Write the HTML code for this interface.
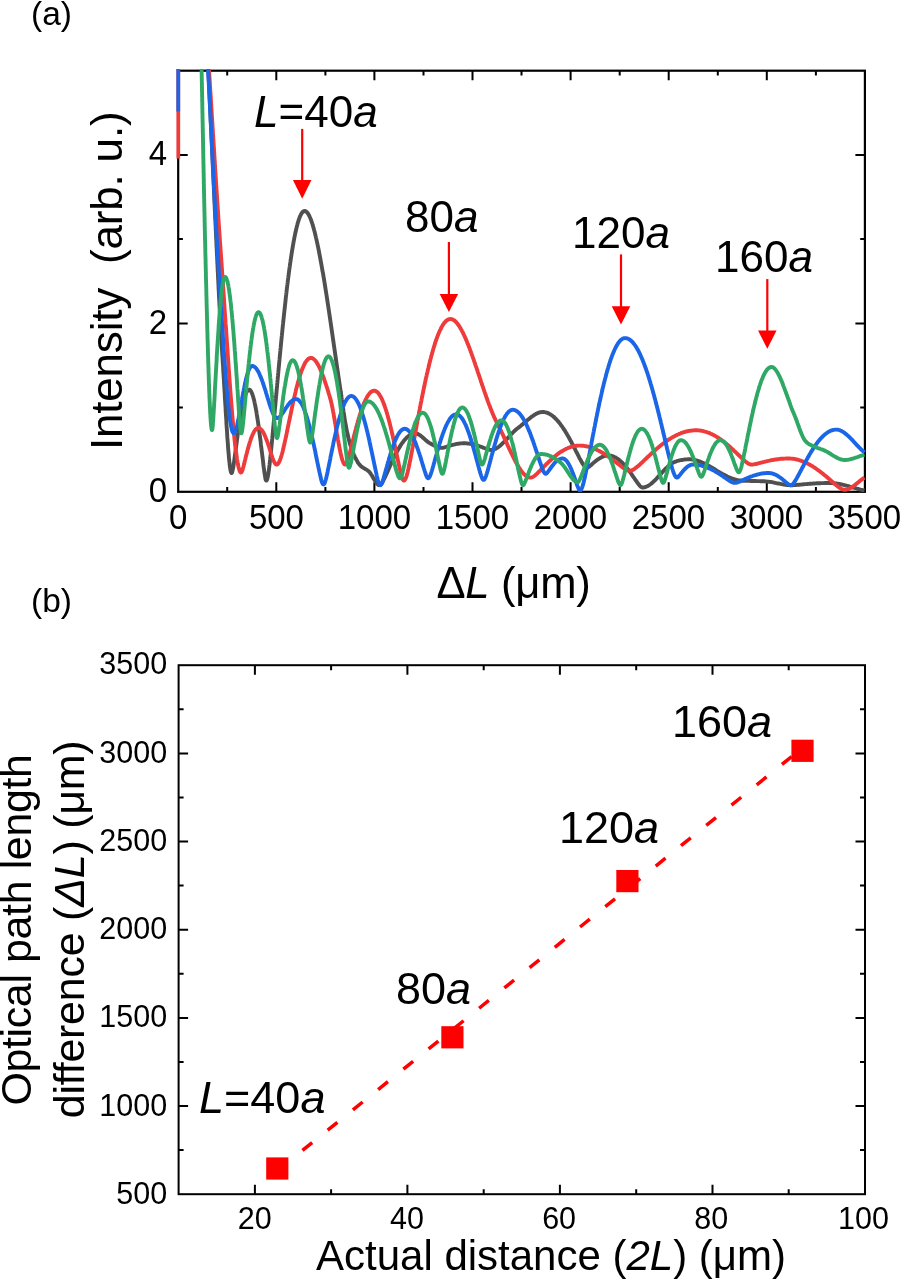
<!DOCTYPE html>
<html><head><meta charset="utf-8">
<style>
html,body{margin:0;padding:0;background:#fff;}
svg{display:block;will-change:transform;}
text{font-family:"Liberation Sans",sans-serif;fill:#000;white-space:pre;}
.i{font-style:italic;}
</style></head><body>
<svg width="900" height="1279" viewBox="0 0 900 1279">
<defs><clipPath id="ca"><rect x="176.2" y="69" width="690.7" height="423"/></clipPath></defs>
<text x="31" y="24.5" font-size="33.5">(a)</text>
<g font-size="33" text-anchor="end">
<text transform="translate(167,501.8) scale(1,1.065)">0</text>
<text transform="translate(167,333.8) scale(1,1.065)">2</text>
<text transform="translate(167,165.3) scale(1,1.065)">4</text>
</g>
<g font-size="33" text-anchor="middle">
<text transform="translate(178.2,528.6) scale(1,1.065)">0</text>
<text transform="translate(276.4,528.6) scale(1,1.065)">500</text>
<text transform="translate(374.4,528.6) scale(1,1.065)">1000</text>
<text transform="translate(472.4,528.6) scale(1,1.065)">1500</text>
<text transform="translate(570.4,528.6) scale(1,1.065)">2000</text>
<text transform="translate(668.4,528.6) scale(1,1.065)">2500</text>
<text transform="translate(766.4,528.6) scale(1,1.065)">3000</text>
<text transform="translate(864.4,528.6) scale(1,1.065)">3500</text>
</g>
<text x="436.5" y="598.2" font-size="43.6" letter-spacing="-0.3">Δ<tspan class="i">L</tspan> (μm)</text>
<text transform="translate(122,450) rotate(-90)" font-size="44" letter-spacing="-0.2">Intensity  (arb. u.)</text>
<rect x="178.2" y="70.7" width="686.7" height="421.1" fill="none" stroke="#000" stroke-width="2.2"/>
<path d="M227.2,491.8 v-4.7 M227.2,70.7 v4.7 M276.3,491.8 v-9.5 M276.3,70.7 v9.5 M325.4,491.8 v-4.7 M325.4,70.7 v4.7 M374.4,491.8 v-9.5 M374.4,70.7 v9.5 M423.5,491.8 v-4.7 M423.5,70.7 v4.7 M472.5,491.8 v-9.5 M472.5,70.7 v9.5 M521.5,491.8 v-4.7 M521.5,70.7 v4.7 M570.6,491.8 v-9.5 M570.6,70.7 v9.5 M619.7,491.8 v-4.7 M619.7,70.7 v4.7 M668.7,491.8 v-9.5 M668.7,70.7 v9.5 M717.8,491.8 v-4.7 M717.8,70.7 v4.7 M766.8,491.8 v-9.5 M766.8,70.7 v9.5 M815.9,491.8 v-4.7 M815.9,70.7 v4.7 M178.2,407.6 h4.7 M864.9,407.6 h-4.7 M178.2,323.4 h9.5 M864.9,323.4 h-9.5 M178.2,239.1 h4.7 M864.9,239.1 h-4.7 M178.2,154.9 h9.5 M864.9,154.9 h-9.5" stroke="#000" stroke-width="2" fill="none"/>
<g clip-path="url(#ca)" fill="none" stroke-width="3.9" stroke-linejoin="round">
<path d="M190.0,-300 L208.3,70L208.4,71.1L208.4,72.3L208.5,73.5L208.5,74.6L208.6,75.8L208.6,76.9L208.7,78.1L208.8,79.2L208.8,80.4L208.9,81.6L208.9,82.7L209.0,83.9L209.0,85.1L209.1,86.3L209.2,87.4L209.2,88.6L209.3,89.8L209.3,91.0L209.4,92.2L209.4,93.3L209.5,94.5L209.6,95.7L209.6,96.9L209.7,98.1L209.7,99.3L209.8,100.5L209.8,101.7L209.9,102.9L209.9,104.1L210.0,105.3L210.1,106.5L210.1,107.7L210.2,108.9L210.2,110.1L210.3,111.3L210.3,112.5L210.4,113.7L210.5,114.9L210.5,116.1L210.6,117.3L210.6,118.5L210.7,119.8L210.7,121.0L210.8,122.2L210.9,123.4L210.9,124.6L211.0,125.8L211.0,127.1L211.1,128.3L211.1,129.5L211.2,130.7L211.3,131.9L211.3,133.2L211.4,134.4L211.4,135.6L211.5,136.8L211.5,138.1L211.6,139.3L211.7,140.5L211.7,141.8L211.8,143.0L211.8,144.2L211.9,145.5L211.9,146.7L212.0,147.9L212.1,149.2L212.1,150.4L212.2,151.6L212.2,152.9L212.3,154.1L212.3,155.3L212.4,156.6L212.5,157.8L212.5,159.0L212.6,160.3L212.6,161.5L212.7,162.7L212.7,164.0L212.8,165.2L212.8,166.4L212.9,167.7L213.0,168.9L213.0,170.2L213.1,171.4L213.1,172.6L213.2,173.9L213.2,175.1L213.3,176.3L213.4,177.6L213.4,178.8L213.5,180.1L213.5,181.3L213.6,182.5L213.6,183.8L213.7,185.0L213.8,186.2L213.8,187.5L213.9,188.7L213.9,189.9L214.0,191.2L214.0,192.4L214.1,193.7L214.2,194.9L214.2,196.1L214.3,197.4L214.3,198.6L214.4,199.8L214.4,201.0L214.5,202.3L214.6,203.5L214.6,204.7L214.7,206.0L214.7,207.2L214.8,208.4L214.8,209.6L214.9,210.9L215.0,212.1L215.0,213.3L215.1,214.5L215.1,215.8L215.2,217.0L215.2,218.2L215.3,219.4L215.4,220.7L215.4,221.9L215.5,223.1L215.5,224.3L215.6,225.5L215.6,226.7L215.7,227.9L215.7,229.2L215.8,230.4L215.9,231.6L215.9,232.8L216.0,234.0L216.0,235.2L216.1,236.4L216.1,237.6L216.2,238.8L216.3,240.0L216.3,241.2L216.4,242.4L216.4,243.6L216.5,244.8L216.5,246.0L216.6,247.2L216.7,248.4L216.7,249.6L216.8,250.7L216.8,251.9L216.9,253.1L216.9,254.3L217.0,255.5L217.1,256.7L217.1,257.8L217.2,259.0L217.2,260.2L217.3,261.4L217.3,262.5L217.4,263.7L217.5,264.9L217.5,266.0L217.6,267.2L217.6,268.3L217.7,269.5L217.7,270.7L217.8,271.8L217.9,273.0L217.9,274.1L218.0,275.3L218.0,276.4L218.1,277.6L218.1,278.7L218.2,279.8L218.3,281.0L218.3,282.1L218.4,283.3L218.4,284.4L218.5,285.5L218.5,286.6L218.6,287.8L218.6,288.9L218.7,290.0L218.8,291.1L218.8,292.2L218.9,293.3L218.9,294.5L219.0,295.6L219.0,296.7L219.1,297.8L219.2,298.9L219.2,300.0L219.3,301.1L219.3,302.1L219.4,303.2L219.4,304.3L219.5,305.4L219.6,306.5L219.6,307.6L219.7,308.6L219.7,309.7L219.8,310.8L219.8,311.8L219.9,312.9L220.0,314.0L220.0,315.0L220.1,316.1L220.1,317.1L220.2,318.2L220.2,319.2L220.3,320.3L220.4,321.3L220.4,322.3L220.5,323.4L220.5,324.4L220.6,325.4L220.6,326.4L220.7,327.4L220.8,328.5L220.8,329.5L220.9,330.5L220.9,331.5L221.0,332.5L221.0,333.5L221.1,334.5L221.2,335.5L221.2,336.5L221.3,337.4L221.3,338.4L221.4,339.4L221.4,340.4L221.5,341.4L221.5,342.3L221.6,343.3L221.7,344.2L221.7,345.2L221.8,346.1L221.8,347.1L221.9,348.0L221.9,349.0L222.0,349.9L222.1,350.8L222.1,351.8L222.2,352.7L222.2,353.6L222.3,354.5L222.3,355.4L222.4,356.4L222.5,357.3L222.5,358.2L222.6,359.1L222.6,359.9L222.7,360.8L222.7,361.7L222.8,362.6L222.9,364.0L223.0,365.4L223.1,366.8L223.2,368.2L223.2,369.6L223.3,371.0L223.4,372.5L223.5,373.9L223.6,375.4L223.7,376.8L223.8,378.3L223.9,379.8L224.0,381.3L224.0,382.8L224.1,384.2L224.2,385.7L224.3,387.2L224.4,388.7L224.5,390.3L224.6,391.8L224.7,393.3L224.8,394.8L224.8,396.3L224.9,397.8L225.0,399.3L225.1,400.8L225.2,402.3L225.3,403.8L225.4,405.4L225.5,406.9L225.6,408.4L225.6,409.8L225.7,411.3L225.8,412.8L225.9,414.3L226.0,415.8L226.1,417.2L226.2,418.7L226.3,420.1L226.4,421.6L226.4,423.0L226.5,424.4L226.6,425.9L226.7,427.3L226.8,428.7L226.9,430.0L227.0,431.4L227.1,432.8L227.2,434.1L227.2,435.4L227.3,436.8L227.4,438.1L227.5,439.3L227.6,440.6L227.7,441.9L227.8,443.1L227.9,444.3L228.0,445.5L228.0,446.7L228.1,447.9L228.2,449.0L228.3,450.1L228.4,451.2L228.5,452.3L228.6,453.4L228.7,454.4L228.8,455.5L228.8,456.4L228.9,457.4L229.0,458.4L229.1,459.3L229.2,460.2L229.3,461.1L229.4,461.9L229.5,462.7L229.6,463.5L229.6,464.3L229.7,465.0L229.8,465.7L229.9,466.4L230.0,467.1L230.1,467.7L230.2,468.3L230.3,468.8L230.4,469.3L230.4,469.8L230.5,470.3L230.6,470.7L230.7,471.1L230.8,471.4L230.9,471.8L231.0,472.1L231.1,472.3L231.2,472.5L231.2,472.7L231.3,472.8L231.4,472.9L231.5,473.0L231.6,473.0L231.8,472.9L232.0,472.6L232.2,472.0L232.4,471.3L232.6,470.4L232.8,469.4L233.1,468.3L233.3,467.1L233.5,465.8L233.7,464.4L233.9,463.0L234.1,461.6L234.3,460.1L234.5,458.6L234.7,457.1L234.9,455.5L235.1,454.0L235.3,452.4L235.6,450.9L235.8,449.3L236.0,447.8L236.2,446.2L236.4,444.6L236.6,443.1L236.8,441.6L237.0,440.0L237.2,438.5L237.4,437.0L237.6,435.5L237.8,434.0L238.1,432.6L238.3,431.1L238.5,429.7L238.7,428.3L238.9,426.9L239.1,425.5L239.3,424.1L239.5,422.8L239.7,421.4L239.9,420.1L240.1,418.9L240.3,417.6L240.6,416.4L240.8,415.1L241.0,413.9L241.2,412.8L241.4,411.6L241.6,410.5L241.8,409.4L242.0,408.3L242.2,407.3L242.4,406.3L242.6,405.3L242.8,404.3L243.1,403.4L243.3,402.5L243.5,401.6L243.7,400.8L243.9,400.0L244.1,399.2L244.3,398.4L244.5,397.7L244.7,397.0L244.9,396.3L245.1,395.7L245.3,395.1L245.6,394.5L245.8,393.9L246.0,393.4L246.2,393.0L246.4,392.5L246.6,392.1L246.8,391.7L247.0,391.4L247.2,391.1L247.4,390.8L247.6,390.5L247.8,390.3L248.1,390.1L248.3,390.0L248.5,389.9L248.7,389.8L248.9,389.7L249.1,389.7L249.3,389.7L249.5,389.8L249.7,389.8L249.9,390.0L250.1,390.1L250.2,390.3L250.4,390.5L250.6,390.7L250.8,391.0L251.0,391.3L251.2,391.6L251.4,392.0L251.6,392.4L251.8,392.8L252.0,393.3L252.2,393.7L252.3,394.3L252.5,394.8L252.7,395.4L252.9,396.0L253.1,396.6L253.3,397.3L253.5,398.0L253.7,398.7L253.9,399.5L254.1,400.3L254.3,401.1L254.5,401.9L254.6,402.8L254.8,403.7L255.0,404.6L255.2,405.5L255.4,406.5L255.6,407.5L255.8,408.5L256.0,409.6L256.2,410.7L256.4,411.8L256.6,412.9L256.7,414.0L256.9,415.2L257.1,416.4L257.3,417.6L257.5,418.9L257.7,420.1L257.9,421.4L258.1,422.7L258.3,424.1L258.5,425.4L258.7,426.8L258.8,428.1L259.0,429.5L259.2,431.0L259.4,432.4L259.6,433.9L259.8,435.3L260.0,436.8L260.2,438.3L260.4,439.8L260.6,441.3L260.8,442.9L260.9,444.4L261.1,446.0L261.3,447.5L261.5,449.1L261.7,450.7L261.9,452.3L262.1,453.8L262.3,455.4L262.5,457.0L262.7,458.6L262.9,460.2L263.1,461.7L263.2,463.3L263.4,464.9L263.6,466.4L263.8,467.9L264.0,469.4L264.2,470.8L264.4,472.2L264.6,473.6L264.8,474.8L265.0,476.0L265.2,477.1L265.3,478.1L265.5,479.0L265.7,479.7L265.9,480.2L266.1,480.5L266.3,480.6L266.4,480.6L266.6,480.4L266.7,480.2L266.9,480.0L267.0,479.6L267.2,479.2L267.3,478.7L267.5,478.2L267.6,477.5L267.8,476.8L267.9,476.1L268.1,475.3L268.2,474.4L268.4,473.5L268.5,472.5L268.7,471.5L268.8,470.4L269.0,469.3L269.1,468.1L269.3,466.9L269.4,465.7L269.6,464.5L269.7,463.2L269.9,461.9L270.0,460.5L270.2,459.2L270.3,457.8L270.5,456.4L270.6,454.9L270.8,453.5L270.9,452.0L271.1,450.5L271.2,449.0L271.4,447.5L271.5,446.0L271.7,444.4L271.8,442.9L272.0,441.3L272.1,439.7L272.3,438.2L272.4,436.6L272.6,435.0L272.7,433.4L272.9,431.8L273.0,430.1L273.2,428.5L273.3,426.9L273.5,425.3L273.6,423.6L273.8,422.0L273.9,420.4L274.1,418.7L274.2,417.1L274.4,415.4L274.5,413.8L274.7,412.1L274.8,410.5L275.0,408.8L275.1,407.2L275.3,405.5L275.4,403.8L275.6,402.2L275.7,400.5L275.9,398.9L276.0,397.2L276.2,395.6L276.3,393.9L276.5,392.3L276.6,390.6L276.8,389.0L276.9,387.4L277.1,385.7L277.2,384.1L277.4,382.4L277.5,380.8L277.7,379.2L277.8,377.6L278.0,375.9L278.1,374.3L278.3,372.7L278.4,371.1L278.6,369.5L278.7,367.9L278.9,366.3L279.0,364.7L279.2,363.1L279.3,361.5L279.5,359.9L279.6,358.3L279.8,356.8L279.9,355.2L280.1,353.6L280.2,352.1L280.4,350.5L280.5,349.0L280.7,347.4L280.8,345.9L281.0,344.3L281.1,342.8L281.3,341.3L281.4,339.8L281.6,338.3L281.7,336.7L281.9,335.2L282.0,333.8L282.2,332.3L282.3,330.8L282.5,329.3L282.6,327.8L282.8,326.4L282.9,324.9L283.1,323.5L283.2,322.0L283.4,320.6L283.5,319.2L283.7,317.8L283.8,316.3L284.0,314.9L284.1,313.5L284.3,312.1L284.4,310.8L284.6,309.4L284.7,308.0L284.9,306.6L285.0,305.3L285.2,303.9L285.3,302.6L285.5,301.3L285.6,299.9L285.7,298.6L285.9,297.3L286.0,296.0L286.2,294.7L286.3,293.4L286.5,292.2L286.6,290.9L286.8,289.6L286.9,288.4L287.1,287.1L287.2,285.9L287.4,284.7L287.5,283.5L287.7,282.2L287.8,281.0L288.0,279.9L288.1,278.7L288.3,277.5L288.4,276.3L288.6,275.2L288.7,274.0L288.9,272.9L289.0,271.8L289.2,270.6L289.3,269.5L289.5,268.4L289.6,267.3L289.8,266.3L289.9,265.2L290.1,264.1L290.2,263.1L290.4,262.0L290.5,261.0L290.7,260.0L290.8,258.9L291.0,257.9L291.1,256.9L291.3,255.9L291.4,255.0L291.6,254.0L291.7,253.0L291.9,252.1L292.0,251.2L292.2,250.2L292.3,249.3L292.5,248.4L292.6,247.5L292.8,246.6L292.9,245.7L293.1,244.9L293.2,244.0L293.4,243.2L293.5,242.3L293.7,241.5L293.8,240.7L294.0,239.9L294.1,239.1L294.3,238.3L294.4,237.5L294.6,236.8L294.7,236.0L294.9,235.3L295.0,234.5L295.2,233.8L295.3,233.1L295.5,232.4L295.6,231.7L295.8,231.1L295.9,230.4L296.1,229.7L296.2,229.1L296.4,228.5L296.5,227.8L296.7,227.2L296.8,226.6L297.0,226.0L297.1,225.4L297.3,224.9L297.4,224.3L297.6,223.8L297.7,223.2L297.9,222.7L298.0,222.2L298.2,221.7L298.3,221.2L298.5,220.7L298.6,220.3L298.8,219.8L298.9,219.4L299.1,218.9L299.2,218.5L299.4,218.1L299.5,217.7L299.7,217.3L299.8,216.9L300.0,216.6L300.1,216.2L300.3,215.9L300.4,215.6L300.6,215.2L300.7,214.9L300.9,214.6L301.0,214.4L301.2,214.1L301.3,213.8L301.5,213.6L301.6,213.3L301.8,213.1L301.9,212.9L302.1,212.7L302.2,212.5L302.4,212.3L302.5,212.1L302.7,212.0L302.8,211.8L303.0,211.7L303.1,211.6L303.3,211.5L303.4,211.4L303.6,211.3L303.7,211.2L303.9,211.1L304.0,211.1L304.2,211.1L304.3,211.0L304.5,211.0L304.6,211.0L304.8,211.0L305.0,211.0L305.2,211.1L305.4,211.1L305.6,211.2L305.8,211.3L306.0,211.5L306.2,211.6L306.4,211.7L306.6,211.9L306.8,212.1L307.0,212.3L307.2,212.5L307.4,212.8L307.6,213.0L307.8,213.3L308.0,213.6L308.2,213.9L308.4,214.2L308.6,214.6L308.8,214.9L309.0,215.3L309.2,215.7L309.4,216.1L309.6,216.5L309.8,217.0L310.0,217.4L310.2,217.9L310.4,218.4L310.6,218.9L310.8,219.4L311.0,219.9L311.2,220.5L311.4,221.0L311.6,221.6L311.8,222.2L312.0,222.8L312.2,223.4L312.4,224.0L312.6,224.7L312.8,225.3L313.0,226.0L313.2,226.7L313.4,227.4L313.6,228.1L313.8,228.8L314.0,229.5L314.2,230.3L314.4,231.0L314.6,231.8L314.8,232.6L315.0,233.4L315.2,234.2L315.4,235.0L315.6,235.9L315.8,236.7L316.0,237.6L316.2,238.4L316.4,239.3L316.6,240.2L316.8,241.1L317.0,242.0L317.2,242.9L317.4,243.9L317.6,244.8L317.8,245.8L318.0,246.7L318.2,247.7L318.4,248.7L318.6,249.7L318.8,250.7L319.0,251.7L319.2,252.8L319.4,253.8L319.6,254.8L319.8,255.9L320.0,257.0L320.2,258.0L320.4,259.1L320.6,260.2L320.8,261.3L321.0,262.4L321.2,263.5L321.4,264.6L321.6,265.8L321.8,266.9L322.0,268.1L322.2,269.2L322.4,270.4L322.6,271.6L322.9,272.7L323.1,273.9L323.3,275.1L323.5,276.3L323.7,277.5L323.9,278.7L324.1,279.9L324.3,281.2L324.5,282.4L324.7,283.6L324.9,284.9L325.1,286.1L325.3,287.4L325.5,288.7L325.7,289.9L325.9,291.2L326.1,292.5L326.3,293.8L326.5,295.0L326.7,296.3L326.9,297.6L327.1,298.9L327.3,300.2L327.5,301.6L327.7,302.9L327.9,304.2L328.1,305.5L328.3,306.8L328.5,308.2L328.7,309.5L328.9,310.8L329.1,312.2L329.3,313.5L329.5,314.9L329.7,316.2L329.9,317.6L330.1,318.9L330.3,320.3L330.5,321.7L330.7,323.0L330.9,324.4L331.1,325.8L331.3,327.1L331.5,328.5L331.7,329.9L331.9,331.3L332.1,332.6L332.3,334.0L332.5,335.4L332.7,336.8L332.9,338.2L333.1,339.6L333.3,340.9L333.5,342.3L333.7,343.7L333.9,345.1L334.1,346.5L334.3,347.9L334.5,349.2L334.7,350.6L334.9,352.0L335.1,353.4L335.3,354.8L335.5,356.2L335.7,357.6L335.9,358.9L336.1,360.3L336.3,361.7L336.5,363.1L336.7,364.5L336.9,365.8L337.1,367.2L337.3,368.6L337.5,369.9L337.7,371.3L337.9,372.7L338.1,374.0L338.3,375.4L338.5,376.8L338.7,378.1L338.9,379.5L339.1,380.8L339.3,382.2L339.5,383.5L339.7,384.9L339.9,386.2L340.1,387.5L340.3,388.9L340.5,390.2L340.7,391.5L340.9,392.5L341.0,393.6L341.2,394.6L341.3,395.7L341.5,396.8L341.6,397.8L341.8,398.9L341.9,400.0L342.1,401.1L342.3,402.2L342.4,403.3L342.6,404.4L342.7,405.5L342.9,406.6L343.0,407.7L343.2,408.8L343.3,409.9L343.5,411.0L343.6,412.0L343.8,413.1L344.0,414.2L344.1,415.2L344.3,416.2L344.4,417.2L344.6,418.2L344.7,419.2L344.9,420.1L345.0,421.1L345.2,422.0L345.5,423.6L345.8,425.2L346.1,426.7L346.3,428.2L346.6,429.7L346.9,431.1L347.2,432.4L347.5,433.8L347.8,435.0L348.0,436.3L348.3,437.5L348.6,438.6L348.9,439.8L349.2,440.9L349.5,441.9L349.7,442.9L350.0,443.9L350.3,444.9L350.6,445.8L350.9,446.7L351.2,447.6L351.4,448.4L351.7,449.2L352.0,450.0L352.3,450.8L352.6,451.5L352.9,452.3L353.1,453.0L353.4,453.7L353.7,454.3L354.0,455.0L354.3,455.6L354.6,456.2L354.8,456.8L355.1,457.4L355.4,457.9L355.7,458.5L356.0,459.0L356.3,459.6L356.5,460.1L356.8,460.6L357.1,461.1L357.4,461.6L358.0,462.7L358.7,463.6L359.3,464.4L360.0,465.2L360.6,465.8L361.3,466.4L361.9,466.9L362.5,467.3L363.2,467.7L363.8,468.1L364.5,468.5L365.1,468.9L365.7,469.2L366.4,469.6L367.0,470.0L367.7,470.5L368.3,471.0L369.0,471.6L369.6,472.3L370.2,473.0L370.7,473.7L371.2,474.5L371.8,475.4L372.4,476.3L372.9,477.3L373.4,478.2L374.0,479.2L374.6,480.1L375.1,481.0L375.7,481.9L376.2,482.7L376.8,483.4L377.3,484.0L377.9,484.5L378.4,484.9L378.9,485.1L379.5,485.2L380.0,485.1L380.5,484.8L381.0,484.4L381.5,483.8L382.0,483.1L382.5,482.3L382.9,481.5L383.4,480.5L383.9,479.5L384.4,478.5L384.9,477.5L385.4,476.4L385.9,475.3L386.4,474.2L386.9,473.1L387.4,472.0L387.9,470.9L388.4,469.8L388.8,468.7L389.3,467.6L389.8,466.5L390.3,465.4L390.8,464.3L391.3,463.2L391.8,462.1L392.3,461.0L392.8,460.0L393.3,459.0L393.8,457.9L394.3,456.9L394.7,455.9L395.2,455.0L395.7,454.0L396.2,453.0L396.7,452.1L397.2,451.2L397.7,450.3L398.2,449.4L398.7,448.6L399.2,447.7L399.7,446.9L400.2,446.1L400.6,445.3L401.1,444.6L401.6,443.8L402.1,443.1L402.6,442.5L403.1,441.8L403.6,441.1L404.1,440.5L404.6,439.9L405.1,439.4L405.6,438.8L406.1,438.3L406.5,437.8L407.0,437.3L407.5,436.9L408.0,436.5L408.5,436.1L409.0,435.7L409.5,435.4L410.0,435.1L410.5,434.8L411.0,434.5L411.5,434.3L412.0,434.1L412.4,433.9L412.9,433.7L413.4,433.6L413.9,433.5L414.4,433.5L414.9,433.4L415.4,433.4L416.1,433.5L416.9,433.6L417.6,433.9L418.3,434.2L419.0,434.6L419.8,435.1L420.5,435.6L421.2,436.2L422.0,436.8L422.7,437.4L423.4,438.1L424.2,438.7L424.9,439.4L425.6,440.0L426.4,440.7L427.1,441.3L427.8,441.9L428.5,442.4L429.3,442.9L430.0,443.3L430.9,443.8L431.8,444.3L432.7,444.8L433.6,445.2L434.5,445.7L435.4,446.1L436.3,446.6L437.2,446.9L438.1,447.3L439.0,447.5L439.9,447.7L440.8,447.9L441.7,447.9L442.7,447.8L443.7,447.6L444.7,447.3L445.7,447.0L446.7,446.7L447.7,446.3L448.7,446.0L449.7,445.7L450.7,445.4L451.7,445.1L452.8,444.8L453.8,444.6L454.8,444.4L455.8,444.1L456.8,443.9L457.8,443.8L458.8,443.6L459.8,443.5L460.8,443.4L461.8,443.4L462.8,443.3L463.8,443.3L464.8,443.3L465.7,443.3L466.7,443.4L467.7,443.5L468.7,443.6L469.6,443.7L470.6,443.9L471.6,444.1L472.5,444.3L473.5,444.5L474.5,444.7L475.5,445.0L476.4,445.2L477.4,445.5L478.4,445.9L479.3,446.2L480.3,446.5L481.3,446.9L482.3,447.2L483.2,447.6L484.2,448.0L485.2,448.3L486.1,448.7L487.1,449.1L488.1,449.4L489.1,449.7L490.0,449.9L491.0,450.0L491.7,450.0L492.4,449.9L493.0,449.7L493.7,449.6L494.4,449.3L495.1,449.0L495.7,448.7L496.4,448.3L497.1,447.9L497.8,447.5L498.4,447.0L499.1,446.5L499.8,445.9L500.4,445.4L501.1,444.8L501.8,444.1L502.5,443.5L503.1,442.8L503.8,442.2L504.5,441.5L505.2,440.7L505.9,440.0L506.5,439.3L507.2,438.6L507.9,437.8L508.6,437.1L509.2,436.4L509.9,435.6L510.6,434.9L511.2,434.2L511.9,433.5L512.6,432.8L513.3,432.1L514.0,431.5L514.6,430.8L515.3,430.2L516.0,429.6L516.6,429.0L517.3,428.5L518.0,428.0L518.7,427.4L519.5,426.9L520.2,426.3L521.0,425.7L521.7,425.0L522.5,424.4L523.2,423.8L524.0,423.1L524.7,422.5L525.5,421.8L526.2,421.2L527.0,420.5L527.7,419.9L528.5,419.3L529.2,418.7L530.0,418.1L530.7,417.5L531.5,416.9L532.2,416.3L533.0,415.8L533.7,415.3L534.5,414.8L535.2,414.4L536.0,413.9L536.7,413.6L537.5,413.2L538.2,412.9L539.0,412.6L539.7,412.4L540.5,412.2L541.2,412.1L542.0,412.0L542.7,412.0L543.2,412.0L543.8,412.0L544.3,412.1L544.8,412.2L545.4,412.3L545.9,412.4L546.4,412.6L547.0,412.7L547.5,412.9L548.0,413.1L548.6,413.4L549.1,413.6L549.6,413.9L550.2,414.2L550.7,414.6L551.2,414.9L551.8,415.3L552.3,415.7L552.8,416.1L553.4,416.5L553.9,417.0L554.4,417.5L554.9,418.0L555.5,418.5L556.0,419.0L556.5,419.6L557.1,420.2L557.6,420.8L558.1,421.4L558.7,422.0L559.2,422.7L559.7,423.3L560.3,424.0L560.8,424.8L561.3,425.5L561.9,426.2L562.4,427.0L562.9,427.8L563.5,428.6L564.0,429.4L564.5,430.2L565.1,431.1L565.6,431.9L566.1,432.8L566.7,433.7L567.2,434.6L567.7,435.5L568.3,436.5L568.8,437.4L569.3,438.4L569.9,439.3L570.4,440.3L570.9,441.3L571.5,442.3L572.0,443.3L572.5,444.3L573.1,445.3L573.6,446.4L574.1,447.4L574.7,448.5L575.2,449.5L575.7,450.6L576.2,451.6L576.8,452.7L577.3,453.7L577.8,454.8L578.4,455.8L578.9,456.9L579.4,457.9L580.0,458.9L580.5,459.9L581.0,460.9L581.6,461.8L582.1,462.8L582.6,463.6L583.2,464.5L583.7,465.2L584.2,465.9L584.8,466.5L585.3,467.0L585.8,467.4L586.4,467.6L586.9,467.7L587.7,467.5L588.5,467.1L589.3,466.6L590.1,465.9L590.9,465.2L591.7,464.5L592.4,463.8L593.2,463.1L594.0,462.4L594.8,461.8L595.6,461.1L596.4,460.5L597.2,459.9L598.0,459.3L598.8,458.8L599.6,458.3L600.4,457.8L601.2,457.4L602.0,457.0L602.8,456.6L603.5,456.3L604.3,456.1L605.1,455.9L605.9,455.7L606.7,455.6L607.5,455.5L608.3,455.5L608.9,455.5L609.5,455.6L610.2,455.6L610.8,455.7L611.4,455.9L612.0,456.0L612.7,456.2L613.3,456.5L613.9,456.7L614.5,457.0L615.2,457.3L615.8,457.6L616.4,458.0L617.0,458.4L617.7,458.8L618.3,459.3L618.9,459.7L619.5,460.2L620.1,460.8L620.8,461.3L621.4,461.9L622.0,462.5L622.6,463.1L623.3,463.8L623.9,464.4L624.5,465.1L625.1,465.8L625.8,466.6L626.4,467.3L627.0,468.1L627.6,468.9L628.3,469.7L628.9,470.5L629.5,471.4L630.1,472.2L630.8,473.1L631.4,474.0L632.0,474.9L632.6,475.8L633.2,476.7L633.9,477.6L634.5,478.5L635.1,479.4L635.7,480.3L636.4,481.2L637.0,482.1L637.6,483.0L638.2,483.8L638.9,484.6L639.5,485.4L640.1,486.1L640.7,486.7L641.4,487.1L642.0,487.4L642.6,487.5L643.3,487.5L644.0,487.4L644.6,487.2L645.3,487.1L646.0,486.8L646.7,486.5L647.4,486.2L648.1,485.8L648.8,485.4L649.4,485.0L650.1,484.5L650.8,484.0L651.5,483.4L652.2,482.8L652.9,482.2L653.5,481.6L654.2,480.9L654.9,480.3L655.6,479.6L656.3,478.9L657.0,478.2L657.6,477.4L658.3,476.7L659.0,475.9L659.7,475.2L660.4,474.4L661.0,473.7L661.7,472.9L662.4,472.2L663.1,471.4L663.8,470.7L664.5,469.9L665.1,469.2L665.8,468.5L666.5,467.9L667.2,467.2L667.9,466.6L668.6,465.9L669.2,465.4L669.9,464.8L670.6,464.3L671.3,463.8L672.0,463.3L672.7,462.9L673.4,462.5L674.0,462.2L674.7,461.9L675.4,461.6L676.5,461.3L677.5,460.9L678.6,460.7L679.6,460.4L680.7,460.2L681.7,460.0L682.8,459.8L683.8,459.6L684.9,459.5L685.9,459.4L687.0,459.4L688.0,459.3L689.1,459.3L690.0,459.3L690.8,459.4L691.7,459.4L692.6,459.6L693.4,459.7L694.3,459.9L695.2,460.1L696.0,460.3L696.9,460.5L697.8,460.8L698.6,461.1L699.5,461.4L700.3,461.7L701.2,462.1L702.1,462.5L702.9,462.9L703.8,463.3L704.7,463.7L705.5,464.1L706.4,464.6L707.3,465.0L708.1,465.5L709.0,466.0L709.9,466.5L710.7,467.0L711.6,467.5L712.5,468.0L713.3,468.5L714.2,469.0L715.0,469.5L715.9,470.0L716.8,470.6L717.6,471.1L718.5,471.6L719.4,472.1L720.2,472.6L721.1,473.1L722.0,473.6L722.8,474.1L723.7,474.6L724.6,475.0L725.4,475.5L726.3,475.9L727.2,476.4L728.0,476.8L728.9,477.2L729.8,477.6L730.6,477.9L731.5,478.3L732.4,478.6L733.2,478.9L734.1,479.2L734.9,479.5L735.8,479.7L736.7,479.9L737.5,480.1L738.4,480.3L739.3,480.4L740.1,480.5L741.0,480.6L742.2,480.7L743.4,480.7L744.7,480.8L745.9,480.8L747.1,480.9L748.3,480.9L749.5,480.9L750.8,481.0L752.0,481.0L753.2,481.0L754.4,481.0L755.6,481.0L756.9,481.1L758.1,481.1L759.3,481.1L760.5,481.2L761.7,481.2L763.0,481.3L764.2,481.3L765.4,481.4L766.5,481.5L767.6,481.6L768.6,481.7L769.7,481.9L770.8,482.0L771.9,482.2L773.0,482.4L774.0,482.6L775.1,482.9L776.2,483.1L777.3,483.3L778.3,483.5L779.4,483.7L780.5,483.9L781.6,484.1L782.7,484.3L783.7,484.5L784.8,484.7L785.9,484.8L787.0,485.0L788.1,485.1L789.1,485.1L790.2,485.2L791.3,485.2L792.5,485.2L793.6,485.1L794.8,485.1L795.9,485.0L797.1,484.9L798.2,484.8L799.4,484.7L800.6,484.6L801.7,484.5L802.9,484.4L804.0,484.2L805.2,484.1L806.3,484.1L807.5,484.0L808.7,483.9L809.8,483.8L811.0,483.7L812.1,483.6L813.3,483.5L814.5,483.5L815.6,483.4L816.8,483.3L817.9,483.3L819.1,483.2L820.2,483.2L821.4,483.1L822.6,483.1L823.7,483.1L824.9,483.0L826.0,483.0L827.2,483.0L828.3,483.0L829.5,483.0L830.5,483.0L831.5,483.0L832.5,483.1L833.5,483.2L834.5,483.3L835.5,483.4L836.5,483.5L837.5,483.7L838.5,483.9L839.5,484.0L840.5,484.2L841.5,484.5L842.5,484.7L843.5,484.9L844.5,485.2L845.5,485.4L846.5,485.7L847.5,485.9L848.5,486.2L849.5,486.5L850.5,486.8L851.5,487.1L852.5,487.3L853.5,487.6L854.5,487.9L855.5,488.2L856.5,488.5L857.5,488.8L858.5,489.0L859.5,489.3L860.5,489.6L861.5,489.8L862.5,490.0L863.5,490.3L864.5,490.5" stroke="#505050" />
<path d="M178.2,158.4 L178.2,-300 L185.2,-300 L209.0,70L209.1,71.1L209.1,72.3L209.2,73.4L209.3,74.5L209.4,75.7L209.4,76.8L209.5,78.0L209.6,79.1L209.7,80.2L209.7,81.4L209.8,82.5L209.9,83.7L209.9,84.8L210.0,86.0L210.1,87.1L210.2,88.3L210.2,89.4L210.3,90.6L210.4,91.8L210.5,92.9L210.5,94.1L210.6,95.2L210.7,96.4L210.8,97.5L210.8,98.7L210.9,99.9L211.0,101.0L211.0,102.2L211.1,103.4L211.2,104.5L211.3,105.7L211.3,106.9L211.4,108.0L211.5,109.2L211.6,110.4L211.6,111.5L211.7,112.7L211.8,113.9L211.8,115.0L211.9,116.2L212.0,117.4L212.1,118.5L212.1,119.7L212.2,120.9L212.3,122.1L212.4,123.2L212.4,124.4L212.5,125.6L212.6,126.7L212.6,127.9L212.7,129.1L212.8,130.3L212.9,131.4L212.9,132.6L213.0,133.8L213.1,135.0L213.2,136.1L213.2,137.3L213.3,138.5L213.4,139.6L213.5,140.8L213.5,142.0L213.6,143.2L213.7,144.3L213.7,145.5L213.8,146.7L213.9,147.8L214.0,149.0L214.0,150.2L214.1,151.3L214.2,152.5L214.3,153.7L214.3,154.9L214.4,156.0L214.5,157.2L214.5,158.3L214.6,159.5L214.7,160.7L214.8,161.8L214.8,163.0L214.9,164.2L215.0,165.3L215.1,166.5L215.1,167.6L215.2,168.8L215.3,170.0L215.3,171.1L215.4,172.3L215.5,173.4L215.6,174.6L215.6,175.7L215.7,176.9L215.8,178.0L215.9,179.2L215.9,180.3L216.0,181.5L216.1,182.6L216.1,183.8L216.2,184.9L216.3,186.1L216.4,187.2L216.4,188.3L216.5,189.5L216.6,190.6L216.7,191.7L216.7,192.9L216.8,194.0L216.9,195.1L217.0,196.3L217.0,197.4L217.1,198.5L217.2,199.6L217.2,200.8L217.3,201.9L217.4,203.0L217.5,204.1L217.5,205.2L217.6,206.3L217.7,207.4L217.8,208.6L217.8,209.7L217.9,210.8L218.0,211.9L218.0,213.0L218.1,214.1L218.2,215.2L218.3,216.3L218.3,217.4L218.4,218.4L218.5,219.5L218.6,220.6L218.6,221.7L218.7,222.8L218.8,223.9L218.8,224.9L218.9,226.0L219.0,227.1L219.1,228.2L219.1,229.2L219.2,230.3L219.3,231.3L219.4,232.4L219.4,233.5L219.5,234.5L219.6,235.6L219.7,236.6L219.7,237.7L219.8,238.7L219.9,239.7L219.9,240.8L220.0,241.8L220.1,242.9L220.2,243.9L220.2,244.9L220.3,245.9L220.4,247.0L220.5,248.0L220.5,249.0L220.6,250.0L220.7,251.4L220.8,252.8L220.9,254.2L221.0,255.6L221.1,257.1L221.2,258.5L221.3,259.9L221.4,261.3L221.5,262.8L221.6,264.2L221.7,265.7L221.8,267.1L221.9,268.6L222.0,270.0L222.1,271.5L222.2,272.9L222.3,274.4L222.4,275.9L222.5,277.3L222.6,278.8L222.7,280.3L222.8,281.8L222.9,283.3L223.0,284.7L223.1,286.2L223.2,287.7L223.3,289.2L223.4,290.7L223.5,292.2L223.6,293.7L223.7,295.2L223.8,296.7L223.9,298.2L224.0,299.7L224.1,301.2L224.2,302.7L224.3,304.2L224.4,305.7L224.5,307.2L224.6,308.7L224.7,310.2L224.8,311.7L224.9,313.2L225.0,314.7L225.1,316.2L225.2,317.7L225.3,319.2L225.4,320.7L225.5,322.2L225.6,323.7L225.8,325.2L225.9,326.7L226.0,328.2L226.1,329.7L226.2,331.2L226.3,332.7L226.4,334.2L226.5,335.7L226.6,337.2L226.7,338.7L226.8,340.2L226.9,341.7L227.0,343.1L227.1,344.6L227.2,346.1L227.3,347.6L227.4,349.0L227.5,350.5L227.6,352.0L227.7,353.4L227.8,354.9L227.9,356.4L228.0,357.8L228.1,359.3L228.2,360.7L228.3,362.1L228.4,363.6L228.5,365.0L228.6,366.4L228.7,367.9L228.8,369.3L228.9,370.7L229.0,372.1L229.1,373.5L229.2,374.9L229.3,376.3L229.4,377.7L229.5,379.1L229.6,380.5L229.7,381.8L229.8,383.2L229.9,384.6L230.0,385.9L230.1,387.3L230.2,388.6L230.3,390.0L230.4,391.3L230.5,392.6L230.6,393.9L230.7,395.3L230.8,396.6L230.9,397.9L231.0,399.1L231.1,400.4L231.2,401.7L231.3,403.0L231.4,404.2L231.5,405.5L231.6,406.7L231.7,408.0L231.8,409.2L231.9,410.4L232.0,411.7L232.1,412.9L232.2,414.1L232.3,415.3L232.4,416.4L232.5,417.6L232.6,418.8L232.7,419.9L232.8,421.1L232.9,422.2L233.0,423.3L233.1,424.4L233.2,425.6L233.3,426.7L233.4,427.7L233.5,428.8L233.6,429.9L233.7,430.9L233.8,432.0L233.9,433.0L234.0,434.1L234.1,435.1L234.2,436.1L234.3,437.1L234.4,438.0L234.5,439.0L234.6,440.0L234.7,440.9L234.8,441.9L234.9,442.8L235.0,443.7L235.1,444.6L235.2,445.5L235.3,446.4L235.4,447.2L235.5,448.1L235.6,448.9L235.7,449.8L235.8,450.6L236.0,451.4L236.1,452.2L236.2,452.9L236.3,453.7L236.4,454.5L236.5,455.2L236.6,455.9L236.7,456.6L236.8,457.3L236.9,458.0L237.0,458.7L237.1,459.3L237.2,460.0L237.3,460.6L237.4,461.2L237.5,461.8L237.6,462.4L237.7,462.9L237.8,463.5L237.9,464.0L238.0,464.5L238.1,465.0L238.2,465.5L238.3,466.0L238.4,466.5L238.5,466.9L238.6,467.3L238.7,467.7L238.8,468.1L238.9,468.5L239.0,468.9L239.1,469.2L239.2,469.6L239.3,469.9L239.4,470.2L239.5,470.4L239.6,470.7L239.7,470.9L239.8,471.2L239.9,471.4L240.0,471.6L240.1,471.8L240.2,471.9L240.3,472.0L240.4,472.2L240.5,472.3L240.6,472.4L240.7,472.4L240.8,472.5L240.9,472.5L241.0,472.5L241.3,472.3L241.7,471.9L242.0,471.2L242.4,470.2L242.7,469.2L243.0,468.0L243.4,466.7L243.7,465.5L244.1,464.1L244.4,462.8L244.7,461.4L245.1,460.0L245.4,458.7L245.7,457.3L246.1,455.9L246.4,454.6L246.8,453.3L247.1,452.0L247.4,450.7L247.8,449.4L248.1,448.2L248.5,446.9L248.8,445.7L249.1,444.6L249.5,443.5L249.8,442.4L250.2,441.3L250.5,440.3L250.8,439.3L251.2,438.3L251.5,437.4L251.9,436.5L252.2,435.6L252.5,434.8L252.9,434.1L253.2,433.4L253.6,432.7L253.9,432.0L254.2,431.4L254.6,430.9L254.9,430.4L255.2,429.9L255.6,429.5L255.9,429.2L256.3,428.9L256.6,428.6L256.9,428.4L257.3,428.2L257.6,428.1L258.0,428.0L258.3,428.0L258.7,428.0L259.1,428.1L259.5,428.3L259.9,428.5L260.3,428.8L260.7,429.1L261.1,429.5L261.6,429.9L262.0,430.4L262.4,431.0L262.8,431.6L263.2,432.3L263.6,433.0L264.0,433.8L264.4,434.7L264.8,435.5L265.2,436.5L265.6,437.4L266.0,438.5L266.4,439.5L266.8,440.6L267.2,441.7L267.7,442.9L268.1,444.1L268.5,445.3L268.9,446.5L269.3,447.8L269.7,449.1L270.1,450.3L270.5,451.6L270.9,452.9L271.3,454.1L271.7,455.4L272.1,456.6L272.5,457.8L272.9,458.9L273.3,460.0L273.8,461.0L274.2,461.9L274.6,462.7L275.0,463.3L275.4,463.9L275.8,464.3L276.2,464.5L276.6,464.6L276.9,464.6L277.2,464.5L277.5,464.3L277.8,464.0L278.1,463.7L278.4,463.3L278.7,462.9L278.9,462.4L279.2,461.8L279.5,461.2L279.8,460.5L280.1,459.7L280.4,458.9L280.7,458.1L281.0,457.2L281.3,456.2L281.6,455.2L281.9,454.2L282.2,453.1L282.5,452.0L282.8,450.9L283.0,449.7L283.3,448.5L283.6,447.2L283.9,446.0L284.2,444.7L284.5,443.4L284.8,442.1L285.1,440.7L285.4,439.4L285.7,438.0L286.0,436.6L286.3,435.2L286.6,433.8L286.9,432.4L287.2,431.0L287.4,429.6L287.7,428.2L288.0,426.7L288.3,425.3L288.6,423.9L288.9,422.4L289.2,421.0L289.5,419.6L289.8,418.1L290.1,416.7L290.4,415.3L290.7,413.9L291.0,412.5L291.3,411.1L291.6,409.7L291.8,408.3L292.1,407.0L292.4,405.6L292.7,404.2L293.0,402.9L293.3,401.6L293.6,400.3L293.9,399.0L294.2,397.7L294.5,396.4L294.8,395.1L295.1,393.9L295.4,392.7L295.7,391.4L295.9,390.2L296.2,389.1L296.5,387.9L296.8,386.8L297.1,385.6L297.4,384.5L297.7,383.4L298.0,382.4L298.3,381.3L298.6,380.3L298.9,379.3L299.2,378.3L299.5,377.3L299.8,376.3L300.1,375.4L300.3,374.5L300.6,373.6L300.9,372.8L301.2,371.9L301.5,371.1L301.8,370.3L302.1,369.5L302.4,368.8L302.7,368.1L303.0,367.4L303.3,366.7L303.6,366.0L303.9,365.4L304.2,364.8L304.5,364.2L304.7,363.7L305.0,363.1L305.3,362.6L305.6,362.1L305.9,361.7L306.2,361.3L306.5,360.9L306.8,360.5L307.1,360.1L307.4,359.8L307.7,359.5L308.0,359.2L308.3,359.0L308.6,358.7L308.8,358.5L309.1,358.4L309.4,358.2L309.7,358.1L310.0,358.0L310.3,358.0L310.6,357.9L310.9,357.9L311.3,357.9L311.7,358.0L312.1,358.1L312.5,358.3L312.8,358.5L313.2,358.7L313.6,359.0L314.0,359.3L314.4,359.7L314.8,360.0L315.2,360.5L315.6,361.0L316.0,361.5L316.4,362.0L316.7,362.6L317.1,363.2L317.5,363.9L317.9,364.5L318.3,365.2L318.7,366.0L319.1,366.8L319.5,367.6L319.9,368.4L320.3,369.3L320.6,370.1L321.0,371.0L321.4,372.0L321.8,373.0L322.2,373.9L322.6,375.0L323.0,376.0L323.4,377.0L323.8,378.1L324.2,379.2L324.5,380.3L324.9,381.5L325.3,382.6L325.7,383.8L326.1,385.0L326.5,386.2L326.9,387.4L327.3,388.6L327.7,389.9L328.1,391.1L328.4,392.4L328.8,393.7L329.2,395.0L329.6,396.3L330.0,397.6L330.2,398.4L330.4,399.2L330.7,400.0L330.9,400.9L331.1,401.9L331.3,402.8L331.6,403.8L331.8,404.9L332.0,405.9L332.2,407.0L332.5,408.1L332.7,409.3L332.9,410.4L333.1,411.6L333.4,412.8L333.6,414.0L333.8,415.3L334.0,416.5L334.2,417.8L334.5,419.1L334.7,420.4L334.9,421.7L335.1,423.0L335.4,424.3L335.6,425.7L335.8,427.0L336.0,428.3L336.3,429.6L336.5,431.0L336.7,432.3L336.9,433.6L337.2,434.9L337.4,436.2L337.6,437.5L337.8,438.8L338.0,440.1L338.3,441.3L338.5,442.6L338.7,443.8L338.9,445.0L339.2,446.2L339.4,447.3L339.6,448.5L339.8,449.6L340.1,450.7L340.3,451.7L340.5,452.8L340.7,453.8L341.0,454.7L341.2,455.6L341.4,456.5L341.6,457.4L341.8,458.2L342.1,459.0L342.3,459.7L342.5,460.4L342.7,461.0L343.0,461.6L343.2,462.2L343.4,462.7L343.6,463.1L343.9,463.5L344.1,463.8L344.3,464.1L344.5,464.3L344.8,464.5L345.0,464.6L345.2,464.6L345.5,464.5L345.9,464.2L346.2,463.7L346.6,463.1L346.9,462.4L347.2,461.5L347.6,460.5L347.9,459.4L348.3,458.3L348.6,457.1L349.0,455.9L349.3,454.6L349.6,453.3L350.0,452.0L350.3,450.7L350.7,449.3L351.0,448.0L351.3,446.6L351.7,445.3L352.0,443.9L352.4,442.5L352.7,441.2L353.0,439.8L353.4,438.5L353.7,437.1L354.1,435.8L354.4,434.4L354.8,433.1L355.1,431.8L355.4,430.5L355.8,429.2L356.1,427.9L356.5,426.7L356.8,425.4L357.1,424.2L357.5,423.0L357.8,421.8L358.2,420.6L358.5,419.4L358.8,418.2L359.2,417.1L359.5,416.0L359.9,414.9L360.2,413.8L360.6,412.8L360.9,411.7L361.2,410.7L361.6,409.7L361.9,408.7L362.3,407.8L362.6,406.9L362.9,406.0L363.3,405.1L363.6,404.2L364.0,403.4L364.3,402.6L364.6,401.8L365.0,401.0L365.3,400.3L365.7,399.6L366.0,398.9L366.4,398.2L366.7,397.6L367.0,397.0L367.4,396.4L367.7,395.9L368.1,395.3L368.4,394.9L368.7,394.4L369.1,393.9L369.4,393.5L369.8,393.1L370.1,392.8L370.4,392.4L370.8,392.1L371.1,391.9L371.5,391.6L371.8,391.4L372.2,391.2L372.5,391.1L372.8,390.9L373.2,390.8L373.5,390.8L373.9,390.7L374.2,390.7L374.5,390.7L374.8,390.8L375.1,390.8L375.4,390.9L375.7,391.0L376.0,391.2L376.3,391.3L376.6,391.5L376.9,391.8L377.2,392.0L377.5,392.3L377.8,392.6L378.1,392.9L378.4,393.2L378.7,393.6L379.0,394.0L379.3,394.4L379.6,394.9L379.9,395.4L380.2,395.9L380.5,396.4L380.8,396.9L381.1,397.5L381.4,398.1L381.7,398.7L382.0,399.4L382.3,400.0L382.6,400.7L382.9,401.4L383.2,402.2L383.5,402.9L383.8,403.7L384.1,404.5L384.4,405.3L384.7,406.2L385.0,407.1L385.3,407.9L385.6,408.9L385.9,409.8L386.2,410.7L386.5,411.7L386.8,412.7L387.1,413.7L387.4,414.8L387.7,415.8L388.0,416.9L388.3,418.0L388.6,419.1L388.9,420.2L389.2,421.4L389.5,422.5L389.8,423.7L390.1,424.9L390.4,426.1L390.7,427.4L391.0,428.6L391.3,429.9L391.6,431.1L391.9,432.4L392.2,433.7L392.5,435.0L392.8,436.4L393.1,437.7L393.4,439.0L393.7,440.4L394.0,441.8L394.3,443.1L394.6,444.5L394.9,445.9L395.2,447.3L395.5,448.7L395.8,450.2L396.1,451.6L396.4,453.0L396.7,454.4L397.0,455.8L397.3,457.3L397.6,458.7L397.9,460.1L398.2,461.5L398.5,462.9L398.8,464.3L399.1,465.7L399.4,467.1L399.7,468.4L400.0,469.8L400.3,471.0L400.6,472.3L400.9,473.5L401.2,474.7L401.5,475.8L401.8,476.8L402.1,477.7L402.4,478.5L402.7,479.3L403.0,479.8L403.3,480.3L403.6,480.5L403.9,480.6L404.2,480.5L404.4,480.4L404.7,480.1L405.0,479.8L405.2,479.3L405.5,478.8L405.8,478.2L406.1,477.5L406.3,476.7L406.6,475.9L406.9,474.9L407.1,474.0L407.4,473.0L407.7,471.9L407.9,470.8L408.2,469.6L408.5,468.4L408.7,467.2L409.0,466.0L409.3,464.7L409.5,463.4L409.8,462.1L410.1,460.7L410.4,459.4L410.6,458.0L410.9,456.6L411.2,455.2L411.4,453.8L411.7,452.4L412.0,450.9L412.2,449.5L412.5,448.1L412.8,446.6L413.0,445.2L413.3,443.7L413.6,442.2L413.8,440.8L414.1,439.3L414.4,437.9L414.7,436.4L414.9,434.9L415.2,433.5L415.5,432.0L415.7,430.5L416.0,429.1L416.3,427.6L416.5,426.1L416.8,424.7L417.1,423.2L417.3,421.8L417.6,420.3L417.9,418.9L418.1,417.4L418.4,416.0L418.7,414.6L419.0,413.2L419.2,411.7L419.5,410.3L419.8,408.9L420.0,407.5L420.3,406.1L420.6,404.7L420.8,403.3L421.1,402.0L421.4,400.6L421.6,399.2L421.9,397.9L422.2,396.5L422.4,395.2L422.7,393.8L423.0,392.5L423.3,391.2L423.5,389.9L423.8,388.6L424.1,387.3L424.3,386.0L424.6,384.7L424.9,383.5L425.1,382.2L425.4,381.0L425.7,379.7L425.9,378.5L426.2,377.3L426.5,376.1L426.7,374.9L427.0,373.7L427.3,372.5L427.6,371.4L427.8,370.2L428.1,369.0L428.4,367.9L428.6,366.8L428.9,365.7L429.2,364.6L429.4,363.5L429.7,362.4L430.0,361.3L430.2,360.3L430.5,359.2L430.8,358.2L431.0,357.2L431.3,356.1L431.6,355.1L431.9,354.2L432.1,353.2L432.4,352.2L432.7,351.3L432.9,350.3L433.2,349.4L433.5,348.5L433.7,347.6L434.0,346.7L434.3,345.8L434.5,345.0L434.8,344.1L435.1,343.3L435.3,342.4L435.6,341.6L435.9,340.8L436.2,340.0L436.4,339.3L436.7,338.5L437.0,337.8L437.2,337.0L437.5,336.3L437.8,335.6L438.0,334.9L438.3,334.3L438.6,333.6L438.8,333.0L439.1,332.3L439.4,331.7L439.6,331.1L439.9,330.5L440.2,329.9L440.5,329.4L440.7,328.8L441.0,328.3L441.3,327.8L441.5,327.3L441.8,326.8L442.1,326.3L442.3,325.8L442.6,325.4L442.9,325.0L443.1,324.5L443.4,324.1L443.7,323.8L443.9,323.4L444.2,323.0L444.5,322.7L444.8,322.4L445.0,322.1L445.3,321.8L445.6,321.5L445.8,321.2L446.1,321.0L446.4,320.7L446.6,320.5L446.9,320.3L447.2,320.1L447.4,319.9L447.7,319.8L448.0,319.6L448.2,319.5L448.5,319.4L448.8,319.3L449.1,319.2L449.3,319.1L449.6,319.1L449.9,319.0L450.1,319.0L450.4,319.0L450.8,319.0L451.1,319.1L451.5,319.1L451.9,319.2L452.3,319.3L452.6,319.5L453.0,319.7L453.4,319.9L453.8,320.1L454.1,320.4L454.5,320.6L454.9,320.9L455.2,321.3L455.6,321.6L456.0,322.0L456.4,322.4L456.7,322.8L457.1,323.2L457.5,323.7L457.8,324.2L458.2,324.7L458.6,325.2L459.0,325.8L459.3,326.3L459.7,326.9L460.1,327.5L460.4,328.2L460.8,328.8L461.2,329.5L461.6,330.1L461.9,330.8L462.3,331.6L462.7,332.3L463.1,333.0L463.4,333.8L463.8,334.6L464.2,335.4L464.5,336.2L464.9,337.0L465.3,337.9L465.7,338.7L466.0,339.6L466.4,340.4L466.8,341.3L467.1,342.2L467.5,343.2L467.9,344.1L468.3,345.0L468.6,346.0L469.0,346.9L469.4,347.9L469.8,348.9L470.1,349.9L470.5,350.9L470.9,351.9L471.2,352.9L471.6,353.9L472.0,355.0L472.4,356.0L472.7,357.1L473.1,358.1L473.5,359.2L473.9,360.2L474.2,361.3L474.6,362.4L475.0,363.5L475.3,364.6L475.7,365.7L476.1,366.7L476.5,367.8L476.8,368.9L477.2,370.0L477.6,371.2L477.9,372.3L478.3,373.4L478.7,374.5L479.1,375.6L479.4,376.7L479.8,377.8L480.2,378.9L480.6,380.0L480.9,381.1L481.3,382.3L481.7,383.4L482.0,384.5L482.4,385.6L482.8,386.7L483.2,387.8L483.5,388.9L483.9,389.9L484.3,391.0L484.6,392.1L485.0,393.2L485.4,394.3L485.8,395.3L486.1,396.4L486.5,397.4L486.9,398.5L487.2,399.5L487.6,400.5L488.0,401.6L488.4,402.6L488.7,403.6L489.1,404.6L489.5,405.6L489.9,406.5L490.2,407.5L490.6,408.5L491.0,409.4L491.3,410.4L491.7,411.3L492.1,412.2L492.5,413.1L492.8,414.0L493.2,414.8L493.6,415.7L493.9,416.6L494.3,417.4L494.7,418.2L495.1,419.0L495.4,419.8L495.8,420.6L496.2,421.3L496.6,422.1L496.9,422.8L497.3,423.5L497.8,424.4L498.2,425.3L498.7,426.2L499.1,427.1L499.6,428.0L500.1,428.9L500.5,429.9L501.0,430.8L501.4,431.8L501.9,432.8L502.4,433.7L502.8,434.7L503.3,435.7L503.8,436.7L504.2,437.7L504.7,438.7L505.1,439.7L505.6,440.7L506.1,441.7L506.5,442.7L507.0,443.7L507.4,444.8L507.9,445.8L508.4,446.8L508.8,447.8L509.3,448.8L509.8,449.7L510.2,450.7L510.7,451.7L511.1,452.7L511.6,453.7L512.1,454.6L512.5,455.6L513.0,456.5L513.4,457.4L513.9,458.3L514.4,459.2L514.8,460.1L515.3,461.0L515.7,461.9L516.2,462.7L516.7,463.6L517.1,464.4L517.6,465.2L518.0,466.0L518.5,466.7L519.0,467.5L519.4,468.2L519.9,468.9L520.4,469.6L520.8,470.2L521.3,470.9L521.7,471.5L522.2,472.1L522.7,472.6L523.1,473.2L523.6,473.7L524.0,474.2L524.5,474.6L525.0,475.0L525.4,475.4L525.9,475.8L526.4,476.1L526.8,476.4L527.3,476.7L527.7,476.9L528.2,477.1L528.7,477.3L529.1,477.4L529.6,477.5L530.0,477.6L530.5,477.6L531.2,477.5L532.0,477.3L532.7,477.0L533.4,476.6L534.1,476.1L534.9,475.5L535.6,474.9L536.3,474.3L537.1,473.6L537.8,472.9L538.5,472.2L539.2,471.4L540.0,470.7L540.7,470.0L541.4,469.2L542.2,468.5L542.9,467.7L543.6,467.0L544.3,466.2L545.1,465.5L545.8,464.7L546.5,464.0L547.3,463.3L548.0,462.6L548.7,461.9L549.4,461.2L550.2,460.5L550.9,459.8L551.6,459.2L552.4,458.5L553.1,457.9L553.8,457.2L554.5,456.6L555.3,456.0L556.0,455.4L556.7,454.9L557.4,454.3L558.2,453.7L558.9,453.2L559.6,452.7L560.4,452.2L561.1,451.7L561.8,451.3L562.5,450.8L563.3,450.4L564.0,450.0L564.7,449.6L565.5,449.2L566.2,448.8L566.9,448.5L567.6,448.2L568.4,447.8L569.1,447.6L569.8,447.3L570.6,447.0L571.3,446.8L572.0,446.6L572.7,446.4L573.5,446.2L574.2,446.1L574.9,446.0L575.7,445.9L576.4,445.8L577.1,445.7L577.8,445.6L578.6,445.6L579.3,445.6L580.1,445.6L580.9,445.6L581.7,445.7L582.5,445.7L583.4,445.8L584.2,445.9L585.0,446.1L585.8,446.2L586.6,446.3L587.4,446.5L588.2,446.7L589.0,446.9L589.8,447.1L590.7,447.4L591.5,447.7L592.3,447.9L593.1,448.2L593.9,448.5L594.7,448.9L595.5,449.2L596.3,449.6L597.1,450.0L598.0,450.3L598.8,450.8L599.6,451.2L600.4,451.6L601.2,452.1L602.0,452.5L602.8,453.0L603.6,453.5L604.5,454.0L605.3,454.5L606.1,455.0L606.9,455.6L607.7,456.1L608.5,456.7L609.3,457.3L610.1,457.9L610.9,458.4L611.8,459.0L612.6,459.7L613.4,460.3L614.2,460.9L615.0,461.5L615.8,462.1L616.6,462.8L617.4,463.4L618.2,464.0L619.1,464.7L619.9,465.3L620.7,465.9L621.5,466.6L622.3,467.2L623.1,467.8L623.9,468.3L624.7,468.9L625.5,469.4L626.4,469.8L627.2,470.2L628.0,470.5L628.8,470.6L629.6,470.7L630.4,470.7L631.1,470.5L631.9,470.3L632.6,469.9L633.4,469.6L634.1,469.1L634.9,468.6L635.6,468.0L636.4,467.4L637.1,466.8L637.9,466.2L638.7,465.5L639.4,464.9L640.2,464.2L640.9,463.5L641.7,462.8L642.4,462.1L643.2,461.3L643.9,460.6L644.7,459.9L645.4,459.2L646.2,458.5L647.0,457.7L647.7,457.0L648.5,456.3L649.2,455.6L650.0,454.9L650.7,454.2L651.5,453.5L652.2,452.8L653.0,452.1L653.7,451.4L654.5,450.7L655.3,450.1L656.0,449.4L656.8,448.8L657.5,448.1L658.3,447.5L659.0,446.8L659.8,446.2L660.5,445.6L661.3,445.0L662.0,444.4L662.8,443.8L663.6,443.3L664.3,442.7L665.1,442.1L665.8,441.6L666.6,441.1L667.3,440.5L668.1,440.0L668.8,439.5L669.6,439.0L670.3,438.6L671.1,438.1L671.9,437.6L672.6,437.2L673.4,436.8L674.1,436.4L674.9,436.0L675.6,435.6L676.4,435.2L677.1,434.8L677.9,434.5L678.6,434.2L679.4,433.8L680.2,433.5L680.9,433.2L681.7,432.9L682.4,432.7L683.2,432.4L683.9,432.2L684.7,432.0L685.4,431.7L686.2,431.5L686.9,431.4L687.7,431.2L688.5,431.0L689.2,430.9L690.0,430.8L690.7,430.7L691.5,430.6L692.2,430.5L693.0,430.4L693.7,430.4L694.5,430.3L695.2,430.3L696.0,430.3L696.8,430.3L697.5,430.3L698.3,430.4L699.0,430.4L699.8,430.5L700.5,430.6L701.3,430.7L702.0,430.9L702.8,431.0L703.5,431.2L704.3,431.4L705.0,431.6L705.8,431.8L706.5,432.0L707.3,432.3L708.0,432.5L708.8,432.8L709.5,433.1L710.3,433.5L711.0,433.8L711.8,434.1L712.5,434.5L713.3,434.9L714.0,435.3L714.8,435.7L715.5,436.1L716.3,436.6L717.0,437.0L717.8,437.5L718.5,438.0L719.3,438.5L720.0,439.0L720.8,439.5L721.5,440.1L722.3,440.6L723.0,441.2L723.8,441.8L724.6,442.4L725.3,443.0L726.1,443.6L726.8,444.2L727.6,444.8L728.3,445.5L729.1,446.1L729.8,446.8L730.6,447.5L731.3,448.2L732.1,448.9L732.8,449.5L733.6,450.3L734.3,451.0L735.1,451.7L735.8,452.4L736.6,453.1L737.3,453.8L738.1,454.6L738.8,455.3L739.6,456.0L740.3,456.7L741.1,457.5L741.8,458.2L742.6,458.9L743.3,459.6L744.1,460.3L744.8,460.9L745.6,461.6L746.3,462.2L747.1,462.7L747.8,463.3L748.6,463.7L749.3,464.1L750.1,464.4L750.8,464.5L751.6,464.6L752.6,464.6L753.7,464.4L754.7,464.2L755.8,464.0L756.8,463.8L757.9,463.5L758.9,463.2L760.0,463.0L761.0,462.7L762.1,462.4L763.1,462.1L764.2,461.9L765.2,461.6L766.3,461.4L767.3,461.1L768.4,460.9L769.4,460.7L770.5,460.4L771.5,460.2L772.6,460.0L773.6,459.8L774.7,459.7L775.7,459.5L776.8,459.3L777.8,459.2L778.9,459.1L779.9,458.9L781.0,458.8L782.0,458.8L783.1,458.7L784.1,458.6L785.2,458.6L786.2,458.5L787.3,458.5L788.3,458.5L789.1,458.5L789.8,458.5L790.6,458.6L791.4,458.6L792.2,458.7L792.9,458.8L793.7,458.9L794.5,459.0L795.3,459.2L796.0,459.3L796.8,459.5L797.6,459.7L798.3,459.9L799.1,460.1L799.9,460.4L800.7,460.6L801.4,460.9L802.2,461.2L803.0,461.5L803.8,461.8L804.5,462.1L805.3,462.4L806.1,462.8L806.8,463.2L807.6,463.6L808.4,464.0L809.2,464.4L809.9,464.8L810.7,465.3L811.5,465.7L812.3,466.2L813.0,466.7L813.8,467.2L814.6,467.7L815.3,468.2L816.1,468.7L816.9,469.3L817.7,469.8L818.4,470.4L819.2,470.9L820.0,471.5L820.7,472.1L821.5,472.7L822.3,473.3L823.1,473.9L823.8,474.6L824.6,475.2L825.4,475.8L826.2,476.5L826.9,477.1L827.7,477.8L828.5,478.5L829.2,479.1L830.0,479.8L830.8,480.5L831.6,481.2L832.3,481.8L833.1,482.5L833.9,483.2L834.7,483.8L835.4,484.5L836.2,485.1L837.0,485.8L837.7,486.4L838.5,487.0L839.3,487.5L840.1,488.1L840.8,488.5L841.6,489.0L842.4,489.3L843.2,489.6L843.9,489.7L844.7,489.8L845.5,489.8L846.2,489.7L847.0,489.5L847.7,489.3L848.5,489.0L849.3,488.7L850.0,488.3L850.8,487.8L851.6,487.4L852.3,486.9L853.1,486.4L853.8,485.8L854.6,485.2L855.4,484.6L856.1,484.0L856.9,483.4L857.6,482.8L858.4,482.2L859.2,481.5L859.9,480.9L860.7,480.3L861.5,479.7L862.2,479.2L863.0,478.6L863.7,478.1L864.5,477.6" stroke="#ee3b3b" />
<path d="M178.2,111.6 L178.2,-300 L188.8,-300 L208.1,70L208.2,71.1L208.2,72.3L208.3,73.4L208.3,74.6L208.4,75.8L208.5,76.9L208.5,78.1L208.6,79.2L208.6,80.4L208.7,81.6L208.8,82.7L208.8,83.9L208.9,85.1L208.9,86.2L209.0,87.4L209.1,88.6L209.1,89.8L209.2,91.0L209.2,92.1L209.3,93.3L209.4,94.5L209.4,95.7L209.5,96.9L209.5,98.0L209.6,99.2L209.7,100.4L209.7,101.6L209.8,102.8L209.8,104.0L209.9,105.2L210.0,106.4L210.0,107.6L210.1,108.8L210.1,110.0L210.2,111.2L210.3,112.4L210.3,113.6L210.4,114.8L210.4,116.0L210.5,117.2L210.6,118.4L210.6,119.6L210.7,120.8L210.7,122.0L210.8,123.2L210.9,124.4L210.9,125.6L211.0,126.8L211.0,128.0L211.1,129.2L211.2,130.4L211.2,131.6L211.3,132.8L211.3,134.0L211.4,135.2L211.5,136.4L211.5,137.6L211.6,138.8L211.6,140.0L211.7,141.2L211.8,142.4L211.8,143.6L211.9,144.8L211.9,146.0L212.0,147.2L212.1,148.4L212.1,149.6L212.2,150.8L212.2,152.0L212.3,153.2L212.4,154.4L212.4,155.6L212.5,156.8L212.5,158.0L212.6,159.2L212.7,160.4L212.7,161.6L212.8,162.8L212.8,164.0L212.9,165.2L212.9,166.3L213.0,167.5L213.1,168.7L213.1,169.9L213.2,171.1L213.2,172.3L213.3,173.4L213.4,174.6L213.4,175.8L213.5,177.0L213.5,178.1L213.6,179.3L213.7,180.5L213.7,181.6L213.8,182.8L213.8,184.0L213.9,185.1L214.0,186.3L214.0,187.5L214.1,188.6L214.1,189.8L214.2,190.9L214.3,192.1L214.3,193.2L214.4,194.4L214.4,195.5L214.5,196.7L214.6,197.8L214.6,198.9L214.7,200.1L214.7,201.2L214.8,202.3L214.9,203.5L214.9,204.6L215.0,205.7L215.0,206.8L215.1,208.0L215.2,209.1L215.2,210.2L215.3,211.3L215.3,212.4L215.4,213.5L215.5,214.6L215.5,215.7L215.6,216.8L215.6,217.9L215.7,219.0L215.8,220.1L215.8,221.1L215.9,222.2L215.9,223.3L216.0,224.4L216.1,225.4L216.1,226.5L216.2,227.6L216.2,228.6L216.3,229.7L216.4,230.7L216.4,231.8L216.5,232.8L216.5,233.9L216.6,234.9L216.7,235.9L216.7,237.0L216.8,238.0L216.8,239.0L216.9,240.0L217.0,241.1L217.0,242.1L217.1,243.1L217.1,244.1L217.2,245.1L217.3,246.1L217.3,247.1L217.4,248.0L217.4,249.0L217.5,250.0L217.6,251.6L217.7,253.2L217.8,254.8L217.9,256.4L218.0,258.0L218.1,259.6L218.2,261.2L218.3,262.8L218.4,264.4L218.5,266.0L218.6,267.6L218.7,269.2L218.8,270.8L218.9,272.4L219.0,274.0L219.1,275.6L219.2,277.2L219.3,278.8L219.4,280.4L219.5,281.9L219.5,283.5L219.6,285.1L219.7,286.7L219.8,288.3L219.9,289.9L220.0,291.5L220.1,293.1L220.2,294.7L220.3,296.3L220.4,297.9L220.5,299.4L220.6,301.0L220.7,302.6L220.8,304.2L220.9,305.7L221.0,307.3L221.1,308.9L221.2,310.4L221.3,312.0L221.4,313.5L221.5,315.1L221.6,316.6L221.7,318.2L221.8,319.7L221.9,321.2L222.0,322.7L222.1,324.3L222.2,325.8L222.3,327.3L222.4,328.8L222.5,330.3L222.6,331.8L222.7,333.3L222.8,334.8L222.9,336.3L223.0,337.8L223.1,339.2L223.2,340.7L223.3,342.1L223.4,343.6L223.5,345.0L223.5,346.5L223.6,347.9L223.7,349.3L223.8,350.7L223.9,352.2L224.0,353.6L224.1,355.0L224.2,356.3L224.3,357.7L224.4,359.1L224.5,360.5L224.6,361.8L224.7,363.2L224.8,364.5L224.9,365.8L225.0,367.2L225.1,368.5L225.2,369.8L225.3,371.1L225.4,372.4L225.5,373.6L225.6,374.9L225.7,376.2L225.8,377.4L225.9,378.6L226.0,379.9L226.1,381.1L226.2,382.3L226.3,383.5L226.4,384.7L226.5,385.8L226.6,387.0L226.7,388.2L226.8,389.3L226.9,390.4L227.0,391.5L227.1,392.7L227.2,393.7L227.3,394.8L227.4,395.9L227.5,397.0L227.6,398.0L227.6,399.0L227.7,400.1L227.8,401.1L227.9,402.1L228.0,403.0L228.1,404.0L228.2,405.0L228.3,405.9L228.4,406.8L228.5,407.8L228.6,408.7L228.7,409.5L228.8,410.4L228.9,411.3L229.0,412.1L229.1,413.0L229.2,413.8L229.3,414.6L229.4,415.4L229.5,416.1L229.6,416.9L229.7,417.6L229.8,418.3L229.9,419.1L230.0,419.7L230.1,420.4L230.2,421.1L230.3,421.7L230.4,422.4L230.5,423.0L230.6,423.6L230.7,424.1L230.8,424.7L230.9,425.2L231.0,425.8L231.1,426.3L231.2,426.8L231.3,427.2L231.4,427.7L231.5,428.1L231.6,428.6L231.6,429.0L231.7,429.4L231.8,429.7L231.9,430.1L232.0,430.4L232.1,430.7L232.2,431.0L232.3,431.3L232.4,431.5L232.5,431.8L232.6,432.0L232.7,432.2L232.8,432.3L232.9,432.5L233.0,432.6L233.1,432.7L233.2,432.8L233.3,432.9L233.4,433.0L233.5,433.0L233.6,433.0L233.9,433.0L234.1,432.8L234.4,432.6L234.6,432.2L234.9,431.8L235.2,431.3L235.4,430.7L235.7,430.0L236.0,429.2L236.2,428.4L236.5,427.5L236.7,426.5L237.0,425.5L237.3,424.4L237.5,423.2L237.8,422.0L238.1,420.8L238.3,419.5L238.6,418.1L238.8,416.8L239.1,415.4L239.4,414.0L239.6,412.5L239.9,411.1L240.1,409.6L240.4,408.2L240.7,406.7L240.9,405.2L241.2,403.7L241.5,402.2L241.7,400.8L242.0,399.3L242.2,397.8L242.5,396.4L242.8,395.0L243.0,393.6L243.3,392.2L243.6,390.8L243.8,389.4L244.1,388.1L244.3,386.8L244.6,385.6L244.9,384.3L245.1,383.1L245.4,381.9L245.7,380.8L245.9,379.7L246.2,378.6L246.4,377.6L246.7,376.6L247.0,375.6L247.2,374.7L247.5,373.9L247.7,373.0L248.0,372.2L248.3,371.5L248.5,370.8L248.8,370.1L249.1,369.5L249.3,369.0L249.6,368.5L249.8,368.0L250.1,367.6L250.4,367.2L250.6,366.9L250.9,366.6L251.2,366.4L251.4,366.2L251.7,366.1L251.9,366.0L252.2,366.0L252.6,366.0L253.0,366.1L253.4,366.2L253.8,366.4L254.1,366.6L254.5,366.9L254.9,367.2L255.3,367.5L255.7,367.9L256.1,368.4L256.5,368.8L256.8,369.4L257.2,370.0L257.6,370.6L258.0,371.2L258.4,371.9L258.8,372.7L259.2,373.5L259.6,374.3L259.9,375.2L260.3,376.1L260.7,377.0L261.1,378.0L261.5,379.0L261.9,380.0L262.3,381.1L262.7,382.1L263.1,383.3L263.4,384.4L263.8,385.6L264.2,386.8L264.6,388.0L265.0,389.2L265.4,390.4L265.8,391.7L266.1,393.0L266.5,394.2L266.9,395.5L267.3,396.8L267.7,398.1L268.1,399.3L268.5,400.6L268.9,401.9L269.2,403.1L269.6,404.3L270.0,405.5L270.4,406.7L270.8,407.8L271.2,408.9L271.6,410.0L272.0,411.0L272.4,412.0L272.7,412.9L273.1,413.7L273.5,414.5L273.9,415.3L274.3,415.9L274.7,416.5L275.1,417.0L275.4,417.4L275.8,417.7L276.2,417.9L276.6,418.1L277.0,418.1L277.6,418.0L278.2,417.8L278.8,417.5L279.5,417.0L280.1,416.4L280.7,415.7L281.3,415.0L281.9,414.1L282.5,413.3L283.2,412.3L283.8,411.4L284.4,410.4L285.0,409.5L285.6,408.5L286.2,407.6L286.9,406.7L287.5,405.8L288.1,404.9L288.7,404.1L289.3,403.4L289.9,402.6L290.6,402.0L291.2,401.4L291.8,400.9L292.4,400.4L293.0,400.0L293.6,399.7L294.3,399.4L294.9,399.2L295.5,399.1L296.1,399.1L296.4,399.1L296.7,399.2L297.0,399.2L297.3,399.3L297.6,399.4L297.9,399.6L298.2,399.8L298.5,400.0L298.8,400.2L299.0,400.5L299.3,400.8L299.6,401.1L299.9,401.5L300.2,401.8L300.5,402.2L300.8,402.7L301.1,403.1L301.4,403.6L301.7,404.1L302.0,404.6L302.3,405.2L302.6,405.8L302.9,406.4L303.2,407.0L303.5,407.7L303.8,408.4L304.1,409.1L304.3,409.8L304.6,410.6L304.9,411.4L305.2,412.2L305.5,413.1L305.8,413.9L306.1,414.8L306.4,415.7L306.7,416.6L307.0,417.6L307.3,418.6L307.6,419.6L307.9,420.6L308.2,421.6L308.5,422.7L308.8,423.8L309.1,424.9L309.4,426.0L309.7,427.1L309.9,428.3L310.2,429.5L310.5,430.6L310.8,431.9L311.1,433.1L311.4,434.3L311.7,435.6L312.0,436.9L312.3,438.2L312.6,439.5L312.9,440.8L313.2,442.1L313.5,443.5L313.8,444.9L314.1,446.2L314.4,447.6L314.7,449.0L315.0,450.4L315.3,451.8L315.5,453.2L315.8,454.7L316.1,456.1L316.4,457.5L316.7,459.0L317.0,460.4L317.3,461.9L317.6,463.3L317.9,464.7L318.2,466.2L318.5,467.6L318.8,469.0L319.1,470.4L319.4,471.8L319.7,473.1L320.0,474.5L320.3,475.8L320.6,477.0L320.8,478.2L321.1,479.4L321.4,480.5L321.7,481.4L322.0,482.3L322.3,483.1L322.6,483.7L322.9,484.1L323.2,484.4L323.5,484.5L323.8,484.4L324.1,484.1L324.4,483.7L324.7,483.1L324.9,482.4L325.2,481.5L325.5,480.5L325.8,479.5L326.1,478.4L326.4,477.2L326.7,475.9L327.0,474.6L327.3,473.3L327.6,471.9L327.8,470.6L328.1,469.2L328.4,467.8L328.7,466.3L329.0,464.9L329.3,463.5L329.6,462.0L329.9,460.6L330.2,459.1L330.4,457.7L330.7,456.2L331.0,454.8L331.3,453.4L331.6,451.9L331.9,450.5L332.2,449.1L332.5,447.7L332.8,446.3L333.1,444.9L333.3,443.5L333.6,442.1L333.9,440.8L334.2,439.4L334.5,438.1L334.8,436.8L335.1,435.5L335.4,434.2L335.7,432.9L336.0,431.7L336.2,430.4L336.5,429.2L336.8,428.0L337.1,426.8L337.4,425.6L337.7,424.5L338.0,423.3L338.3,422.2L338.6,421.1L338.8,420.1L339.1,419.0L339.4,418.0L339.7,416.9L340.0,415.9L340.3,415.0L340.6,414.0L340.9,413.1L341.2,412.2L341.5,411.3L341.7,410.4L342.0,409.6L342.3,408.8L342.6,408.0L342.9,407.2L343.2,406.5L343.5,405.7L343.8,405.0L344.1,404.4L344.4,403.7L344.6,403.1L344.9,402.5L345.2,401.9L345.5,401.4L345.8,400.9L346.1,400.4L346.4,399.9L346.7,399.5L347.0,399.0L347.2,398.7L347.5,398.3L347.8,398.0L348.1,397.6L348.4,397.4L348.7,397.1L349.0,396.9L349.3,396.7L349.6,396.5L349.9,396.3L350.1,396.2L350.4,396.1L350.7,396.1L351.0,396.0L351.3,396.0L351.6,396.0L351.9,396.1L352.2,396.1L352.5,396.2L352.8,396.3L353.1,396.5L353.4,396.6L353.7,396.8L354.0,397.1L354.3,397.3L354.6,397.6L354.9,397.9L355.1,398.2L355.4,398.6L355.7,398.9L356.0,399.3L356.3,399.8L356.6,400.2L356.9,400.7L357.2,401.2L357.5,401.7L357.8,402.3L358.1,402.9L358.4,403.5L358.7,404.1L359.0,404.8L359.3,405.4L359.6,406.1L359.9,406.9L360.2,407.6L360.5,408.4L360.8,409.2L361.1,410.0L361.4,410.8L361.7,411.7L362.0,412.5L362.2,413.5L362.5,414.4L362.8,415.3L363.1,416.3L363.4,417.3L363.7,418.3L364.0,419.3L364.3,420.4L364.6,421.4L364.9,422.5L365.2,423.6L365.5,424.7L365.8,425.9L366.1,427.0L366.4,428.2L366.7,429.4L367.0,430.6L367.3,431.8L367.6,433.1L367.9,434.3L368.2,435.6L368.5,436.9L368.8,438.2L369.1,439.5L369.4,440.8L369.6,442.1L369.9,443.5L370.2,444.8L370.5,446.2L370.8,447.6L371.1,449.0L371.4,450.4L371.7,451.8L372.0,453.2L372.3,454.6L372.6,456.0L372.9,457.4L373.2,458.9L373.5,460.3L373.8,461.7L374.1,463.2L374.4,464.6L374.7,466.0L375.0,467.4L375.3,468.8L375.6,470.2L375.9,471.6L376.2,472.9L376.5,474.3L376.7,475.6L377.0,476.8L377.3,478.1L377.6,479.2L377.9,480.3L378.2,481.3L378.5,482.3L378.8,483.1L379.1,483.8L379.4,484.4L379.7,484.8L380.0,485.1L380.3,485.2L380.7,485.1L381.0,484.7L381.4,484.2L381.8,483.4L382.1,482.6L382.5,481.6L382.8,480.5L383.2,479.4L383.6,478.2L383.9,476.9L384.3,475.6L384.7,474.4L385.0,473.1L385.4,471.7L385.8,470.4L386.1,469.1L386.5,467.8L386.9,466.5L387.2,465.1L387.6,463.8L387.9,462.5L388.3,461.3L388.7,460.0L389.0,458.7L389.4,457.5L389.8,456.3L390.1,455.1L390.5,453.9L390.9,452.7L391.2,451.5L391.6,450.4L392.0,449.3L392.3,448.2L392.7,447.2L393.0,446.1L393.4,445.1L393.8,444.1L394.1,443.2L394.5,442.2L394.9,441.3L395.2,440.4L395.6,439.6L396.0,438.8L396.3,438.0L396.7,437.2L397.1,436.5L397.4,435.8L397.8,435.1L398.1,434.5L398.5,433.9L398.9,433.3L399.2,432.8L399.6,432.3L400.0,431.8L400.3,431.3L400.7,430.9L401.1,430.6L401.4,430.2L401.8,429.9L402.2,429.7L402.5,429.4L402.9,429.2L403.2,429.1L403.6,429.0L404.0,428.9L404.3,428.8L404.7,428.8L405.1,428.8L405.5,428.9L405.9,429.0L406.3,429.1L406.7,429.3L407.1,429.5L407.4,429.8L407.8,430.0L408.2,430.4L408.6,430.7L409.0,431.1L409.4,431.6L409.8,432.1L410.2,432.6L410.6,433.1L411.0,433.7L411.4,434.3L411.8,435.0L412.1,435.7L412.5,436.4L412.9,437.2L413.3,438.0L413.7,438.8L414.1,439.6L414.5,440.5L414.9,441.4L415.3,442.4L415.7,443.3L416.1,444.3L416.4,445.4L416.8,446.4L417.2,447.5L417.6,448.6L418.0,449.7L418.4,450.9L418.8,452.1L419.2,453.2L419.6,454.5L420.0,455.7L420.4,456.9L420.8,458.2L421.1,459.4L421.5,460.7L421.9,462.0L422.3,463.3L422.7,464.6L423.1,465.9L423.5,467.2L423.9,468.5L424.3,469.7L424.7,471.0L425.1,472.2L425.5,473.4L425.8,474.5L426.2,475.5L426.6,476.4L427.0,477.2L427.4,477.8L427.8,478.2L428.2,478.3L428.6,478.2L428.9,477.9L429.3,477.4L429.7,476.7L430.0,475.9L430.4,475.0L430.8,474.0L431.1,472.9L431.5,471.8L431.9,470.6L432.3,469.3L432.6,468.1L433.0,466.8L433.4,465.5L433.7,464.2L434.1,462.9L434.5,461.5L434.8,460.2L435.2,458.9L435.6,457.6L435.9,456.3L436.3,455.0L436.7,453.7L437.0,452.4L437.4,451.1L437.8,449.8L438.1,448.5L438.5,447.3L438.9,446.1L439.3,444.8L439.6,443.6L440.0,442.5L440.4,441.3L440.7,440.1L441.1,439.0L441.5,437.9L441.8,436.8L442.2,435.7L442.6,434.7L442.9,433.6L443.3,432.6L443.7,431.7L444.0,430.7L444.4,429.8L444.8,428.8L445.1,427.9L445.5,427.1L445.9,426.2L446.3,425.4L446.6,424.6L447.0,423.9L447.4,423.1L447.7,422.4L448.1,421.8L448.5,421.1L448.8,420.5L449.2,419.9L449.6,419.3L449.9,418.8L450.3,418.3L450.7,417.8L451.0,417.4L451.4,416.9L451.8,416.5L452.1,416.2L452.5,415.9L452.9,415.6L453.3,415.3L453.6,415.1L454.0,414.9L454.4,414.7L454.7,414.6L455.1,414.4L455.5,414.4L455.8,414.3L456.2,414.3L456.6,414.3L456.9,414.4L457.3,414.4L457.6,414.6L458.0,414.7L458.3,414.9L458.7,415.1L459.0,415.3L459.4,415.6L459.8,415.9L460.1,416.2L460.5,416.5L460.8,416.9L461.2,417.4L461.5,417.8L461.9,418.3L462.2,418.8L462.6,419.3L463.0,419.9L463.3,420.5L463.7,421.1L464.0,421.8L464.4,422.4L464.7,423.1L465.1,423.9L465.5,424.6L465.8,425.4L466.2,426.2L466.5,427.1L466.9,427.9L467.2,428.8L467.6,429.7L467.9,430.7L468.3,431.6L468.7,432.6L469.0,433.6L469.4,434.7L469.7,435.7L470.1,436.8L470.4,437.9L470.8,439.0L471.1,440.2L471.5,441.3L471.9,442.5L472.2,443.7L472.6,444.9L472.9,446.1L473.3,447.3L473.6,448.6L474.0,449.9L474.3,451.1L474.7,452.4L475.1,453.7L475.4,455.0L475.8,456.4L476.1,457.7L476.5,459.0L476.8,460.4L477.2,461.7L477.6,463.0L477.9,464.4L478.3,465.7L478.6,467.0L479.0,468.3L479.3,469.6L479.7,470.9L480.0,472.1L480.4,473.3L480.8,474.5L481.1,475.6L481.5,476.6L481.8,477.5L482.2,478.3L482.5,479.0L482.9,479.5L483.2,479.8L483.6,479.9L484.0,479.8L484.3,479.5L484.7,479.0L485.0,478.4L485.4,477.6L485.7,476.7L486.1,475.8L486.4,474.7L486.8,473.6L487.2,472.4L487.5,471.2L487.9,469.9L488.2,468.6L488.6,467.3L488.9,466.0L489.3,464.7L489.7,463.3L490.0,462.0L490.4,460.7L490.7,459.3L491.1,458.0L491.4,456.6L491.8,455.3L492.1,454.0L492.5,452.7L492.9,451.4L493.2,450.0L493.6,448.8L493.9,447.5L494.3,446.2L494.6,445.0L495.0,443.7L495.4,442.5L495.7,441.3L496.1,440.1L496.4,438.9L496.8,437.7L497.1,436.6L497.5,435.5L497.8,434.4L498.2,433.3L498.6,432.2L498.9,431.2L499.3,430.1L499.6,429.1L500.0,428.1L500.3,427.2L500.7,426.2L501.0,425.3L501.4,424.4L501.8,423.6L502.1,422.7L502.5,421.9L502.8,421.1L503.2,420.3L503.5,419.6L503.9,418.8L504.3,418.1L504.6,417.5L505.0,416.8L505.3,416.2L505.7,415.6L506.0,415.1L506.4,414.5L506.7,414.0L507.1,413.5L507.5,413.1L507.8,412.7L508.2,412.3L508.5,411.9L508.9,411.6L509.2,411.3L509.6,411.0L510.0,410.7L510.3,410.5L510.7,410.3L511.0,410.2L511.4,410.0L511.7,409.9L512.1,409.9L512.4,409.8L512.8,409.8L513.2,409.8L513.6,409.9L514.0,409.9L514.4,410.0L514.9,410.2L515.3,410.3L515.7,410.5L516.1,410.7L516.5,410.9L516.9,411.2L517.3,411.5L517.7,411.8L518.1,412.2L518.6,412.6L519.0,413.0L519.4,413.4L519.8,413.9L520.2,414.3L520.6,414.9L521.0,415.4L521.4,416.0L521.8,416.5L522.3,417.2L522.7,417.8L523.1,418.5L523.5,419.2L523.9,419.9L524.3,420.6L524.7,421.4L525.1,422.2L525.5,423.0L526.0,423.8L526.4,424.7L526.8,425.5L527.2,426.4L527.6,427.3L528.0,428.3L528.4,429.2L528.8,430.2L529.2,431.2L529.7,432.2L530.1,433.3L530.5,434.3L530.9,435.4L531.3,436.5L531.7,437.6L532.1,438.7L532.5,439.9L533.0,441.0L533.4,442.2L533.8,443.4L534.2,444.5L534.6,445.8L535.0,447.0L535.4,448.2L535.8,449.4L536.2,450.7L536.7,451.9L537.1,453.1L537.5,454.4L537.9,455.7L538.3,456.9L538.7,458.2L539.1,459.4L539.5,460.7L539.9,461.9L540.4,463.1L540.8,464.3L541.2,465.5L541.6,466.7L542.0,467.8L542.4,468.8L542.8,469.8L543.2,470.8L543.6,471.6L544.1,472.4L544.5,473.0L544.9,473.4L545.3,473.7L545.7,473.8L546.3,473.6L547.0,473.0L547.6,472.3L548.3,471.4L548.9,470.5L549.6,469.6L550.2,468.7L550.9,467.8L551.5,466.9L552.2,466.0L552.8,465.2L553.5,464.4L554.1,463.6L554.7,462.9L555.4,462.2L556.0,461.6L556.7,461.0L557.3,460.5L558.0,460.0L558.6,459.6L559.3,459.3L559.9,459.0L560.6,458.8L561.2,458.6L561.9,458.5L562.5,458.5L562.9,458.5L563.4,458.6L563.8,458.7L564.2,458.9L564.6,459.2L565.1,459.5L565.5,459.8L565.9,460.2L566.3,460.7L566.8,461.2L567.2,461.7L567.6,462.3L568.0,463.0L568.5,463.7L568.9,464.4L569.3,465.2L569.8,466.0L570.2,466.9L570.6,467.8L571.0,468.7L571.5,469.7L571.9,470.7L572.3,471.8L572.7,472.9L573.2,474.0L573.6,475.1L574.0,476.3L574.5,477.5L574.9,478.7L575.3,479.9L575.7,481.1L576.2,482.3L576.6,483.6L577.0,484.8L577.4,485.9L577.9,487.1L578.3,488.1L578.7,489.1L579.1,489.8L579.6,490.3L580.0,490.5L580.3,490.4L580.5,490.3L580.8,490.0L581.1,489.6L581.4,489.2L581.6,488.6L581.9,488.0L582.2,487.2L582.5,486.4L582.8,485.6L583.0,484.6L583.3,483.6L583.6,482.6L583.9,481.5L584.1,480.3L584.4,479.2L584.7,478.0L585.0,476.7L585.2,475.4L585.5,474.2L585.8,472.8L586.0,471.5L586.3,470.1L586.6,468.8L586.9,467.4L587.1,466.0L587.4,464.6L587.7,463.2L588.0,461.7L588.2,460.3L588.5,458.9L588.8,457.4L589.1,456.0L589.4,454.5L589.6,453.1L589.9,451.6L590.2,450.1L590.5,448.7L590.7,447.2L591.0,445.8L591.3,444.3L591.5,442.8L591.8,441.4L592.1,439.9L592.4,438.5L592.6,437.0L592.9,435.6L593.2,434.2L593.5,432.7L593.8,431.3L594.0,429.9L594.3,428.4L594.6,427.0L594.9,425.6L595.1,424.2L595.4,422.8L595.7,421.4L596.0,420.0L596.2,418.6L596.5,417.3L596.8,415.9L597.0,414.5L597.3,413.2L597.6,411.8L597.9,410.5L598.1,409.2L598.4,407.8L598.7,406.5L599.0,405.2L599.2,403.9L599.5,402.6L599.8,401.4L600.1,400.1L600.4,398.8L600.6,397.6L600.9,396.4L601.2,395.1L601.5,393.9L601.7,392.7L602.0,391.5L602.3,390.3L602.5,389.1L602.8,388.0L603.1,386.8L603.4,385.7L603.6,384.5L603.9,383.4L604.2,382.3L604.5,381.2L604.8,380.1L605.0,379.0L605.3,378.0L605.6,376.9L605.9,375.9L606.1,374.8L606.4,373.8L606.7,372.8L607.0,371.8L607.2,370.9L607.5,369.9L607.8,368.9L608.1,368.0L608.3,367.1L608.6,366.2L608.9,365.3L609.1,364.4L609.4,363.5L609.7,362.6L610.0,361.8L610.2,361.0L610.5,360.1L610.8,359.3L611.1,358.5L611.4,357.8L611.6,357.0L611.9,356.2L612.2,355.5L612.5,354.8L612.7,354.1L613.0,353.4L613.3,352.7L613.6,352.1L613.8,351.4L614.1,350.8L614.4,350.2L614.6,349.6L614.9,349.0L615.2,348.4L615.5,347.8L615.8,347.3L616.0,346.8L616.3,346.3L616.6,345.8L616.9,345.3L617.1,344.8L617.4,344.4L617.7,343.9L618.0,343.5L618.2,343.1L618.5,342.7L618.8,342.3L619.1,342.0L619.3,341.6L619.6,341.3L619.9,341.0L620.1,340.7L620.4,340.4L620.7,340.2L621.0,339.9L621.2,339.7L621.5,339.5L621.8,339.3L622.1,339.1L622.4,338.9L622.6,338.7L622.9,338.6L623.2,338.5L623.5,338.4L623.7,338.3L624.0,338.2L624.3,338.2L624.6,338.1L624.8,338.1L625.1,338.1L625.4,338.1L625.8,338.1L626.1,338.2L626.4,338.2L626.7,338.3L627.1,338.4L627.4,338.5L627.7,338.6L628.0,338.7L628.4,338.9L628.7,339.0L629.0,339.2L629.3,339.4L629.7,339.6L630.0,339.9L630.3,340.1L630.6,340.4L631.0,340.6L631.3,340.9L631.6,341.2L631.9,341.5L632.3,341.9L632.6,342.2L632.9,342.6L633.2,343.0L633.6,343.4L633.9,343.8L634.2,344.2L634.5,344.6L634.9,345.1L635.2,345.5L635.5,346.0L635.9,346.5L636.2,347.0L636.5,347.6L636.8,348.1L637.2,348.7L637.5,349.2L637.8,349.8L638.1,350.4L638.5,351.0L638.8,351.7L639.1,352.3L639.4,353.0L639.8,353.7L640.1,354.3L640.4,355.0L640.7,355.8L641.1,356.5L641.4,357.2L641.7,358.0L642.0,358.7L642.4,359.5L642.7,360.3L643.0,361.1L643.3,362.0L643.7,362.8L644.0,363.6L644.3,364.5L644.6,365.4L645.0,366.3L645.3,367.2L645.6,368.1L646.0,369.0L646.3,369.9L646.6,370.9L646.9,371.8L647.3,372.8L647.6,373.8L647.9,374.8L648.2,375.8L648.6,376.8L648.9,377.8L649.2,378.9L649.5,379.9L649.9,381.0L650.2,382.1L650.5,383.2L650.8,384.3L651.2,385.4L651.5,386.5L651.8,387.6L652.1,388.7L652.5,389.9L652.8,391.1L653.1,392.2L653.4,393.4L653.8,394.6L654.1,395.8L654.4,397.0L654.7,398.2L655.1,399.4L655.4,400.6L655.7,401.9L656.0,403.1L656.4,404.4L656.7,405.7L657.0,406.9L657.4,408.2L657.7,409.5L658.0,410.8L658.3,412.1L658.7,413.4L659.0,414.7L659.3,416.0L659.6,417.3L660.0,418.7L660.3,420.0L660.6,421.3L660.9,422.7L661.3,424.0L661.6,425.4L661.9,426.8L662.2,428.1L662.6,429.5L662.9,430.9L663.2,432.2L663.5,433.6L663.9,435.0L664.2,436.3L664.5,437.7L664.8,439.1L665.2,440.5L665.5,441.9L665.8,443.2L666.1,444.6L666.5,446.0L666.8,447.4L667.1,448.7L667.5,450.1L667.8,451.4L668.1,452.8L668.4,454.1L668.8,455.4L669.1,456.8L669.4,458.1L669.7,459.3L670.1,460.6L670.4,461.9L670.7,463.1L671.0,464.3L671.4,465.5L671.7,466.7L672.0,467.8L672.3,468.9L672.7,469.9L673.0,471.0L673.3,471.9L673.6,472.8L674.0,473.7L674.3,474.4L674.6,475.1L674.9,475.8L675.3,476.3L675.6,476.8L675.9,477.1L676.2,477.4L676.6,477.5L676.9,477.6L677.6,477.4L678.2,476.9L678.9,476.1L679.6,475.3L680.3,474.5L680.9,473.7L681.6,472.8L682.3,472.0L682.9,471.2L683.6,470.4L684.3,469.7L685.0,469.0L685.6,468.3L686.3,467.7L687.0,467.1L687.6,466.6L688.3,466.1L689.0,465.7L689.6,465.4L690.3,465.1L691.0,464.9L691.7,464.7L692.3,464.6L693.0,464.6L693.8,464.6L694.7,464.6L695.5,464.7L696.4,464.8L697.2,464.9L698.0,465.0L698.9,465.1L699.7,465.3L700.5,465.4L701.4,465.6L702.2,465.8L703.1,466.1L703.9,466.3L704.7,466.6L705.6,466.9L706.4,467.2L707.2,467.5L708.1,467.9L708.9,468.2L709.8,468.6L710.6,469.0L711.4,469.4L712.3,469.8L713.1,470.3L714.0,470.7L714.8,471.2L715.6,471.7L716.5,472.2L717.3,472.7L718.1,473.2L719.0,473.7L719.8,474.3L720.7,474.8L721.5,475.4L722.3,475.9L723.2,476.5L724.0,477.1L724.8,477.6L725.7,478.2L726.5,478.8L727.4,479.4L728.2,479.9L729.0,480.5L729.9,481.0L730.7,481.5L731.5,481.9L732.4,482.3L733.2,482.6L734.1,482.8L734.9,482.9L735.8,482.8L736.8,482.6L737.7,482.3L738.6,482.0L739.6,481.6L740.5,481.2L741.4,480.8L742.3,480.3L743.3,479.9L744.2,479.5L745.1,479.0L746.1,478.6L747.0,478.2L747.9,477.8L748.9,477.4L749.8,477.0L750.7,476.7L751.6,476.3L752.6,476.0L753.5,475.7L754.4,475.3L755.4,475.1L756.3,474.8L757.2,474.5L758.2,474.3L759.1,474.1L760.0,473.9L761.0,473.7L761.9,473.5L762.8,473.4L763.7,473.3L764.7,473.2L765.6,473.1L766.5,473.0L767.5,473.0L768.4,473.0L769.2,473.0L770.0,473.1L770.8,473.2L771.6,473.4L772.4,473.5L773.2,473.8L774.0,474.1L774.7,474.4L775.5,474.7L776.3,475.1L777.1,475.6L777.9,476.0L778.7,476.6L779.5,477.1L780.3,477.6L781.1,478.2L781.9,478.9L782.7,479.5L783.5,480.2L784.3,480.8L785.0,481.5L785.8,482.2L786.6,482.9L787.4,483.5L788.2,484.1L789.0,484.7L789.8,485.1L790.6,485.2L791.1,485.1L791.7,484.9L792.2,484.5L792.8,484.1L793.3,483.5L793.9,482.8L794.4,482.0L795.0,481.2L795.5,480.4L796.0,479.5L796.6,478.5L797.1,477.6L797.7,476.6L798.2,475.6L798.8,474.6L799.3,473.5L799.8,472.5L800.4,471.5L800.9,470.4L801.5,469.4L802.0,468.3L802.6,467.3L803.1,466.3L803.7,465.2L804.2,464.2L804.7,463.2L805.3,462.2L805.8,461.2L806.4,460.2L806.9,459.2L807.5,458.2L808.0,457.2L808.6,456.3L809.1,455.3L809.6,454.4L810.2,453.5L810.7,452.6L811.3,451.7L811.8,450.8L812.4,449.9L812.9,449.1L813.5,448.2L814.0,447.4L814.5,446.6L815.1,445.8L815.6,445.0L816.2,444.2L816.7,443.5L817.3,442.8L817.8,442.0L818.3,441.3L818.9,440.7L819.4,440.0L820.0,439.4L820.5,438.7L821.1,438.1L821.6,437.6L822.2,437.0L822.7,436.4L823.2,435.9L823.8,435.4L824.3,434.9L824.9,434.5L825.4,434.0L826.0,433.6L826.5,433.2L827.1,432.8L827.6,432.4L828.1,432.1L828.7,431.8L829.2,431.5L829.8,431.2L830.3,430.9L830.9,430.7L831.4,430.5L831.9,430.3L832.5,430.1L833.0,430.0L833.6,429.9L834.1,429.8L834.7,429.7L835.2,429.6L835.8,429.6L836.3,429.6L837.0,429.6L837.6,429.7L838.3,429.8L839.0,430.0L839.7,430.2L840.3,430.5L841.0,430.8L841.7,431.1L842.3,431.5L843.0,431.9L843.7,432.3L844.4,432.8L845.0,433.3L845.7,433.8L846.4,434.4L847.0,435.0L847.7,435.6L848.4,436.2L849.1,436.8L849.7,437.5L850.4,438.1L851.1,438.8L851.7,439.5L852.4,440.2L853.1,440.9L853.8,441.7L854.4,442.4L855.1,443.1L855.8,443.8L856.4,444.6L857.1,445.3L857.8,446.0L858.5,446.7L859.1,447.4L859.8,448.1L860.5,448.7L861.1,449.4L861.8,450.0L862.5,450.7L863.2,451.3L863.8,451.8L864.5,452.4" stroke="#1a66e6" />
<path d="M194.0,-300 L201.6,70L201.6,71.2L201.6,72.4L201.7,73.5L201.7,74.7L201.7,75.9L201.7,77.1L201.8,78.3L201.8,79.5L201.8,80.7L201.8,81.9L201.9,83.1L201.9,84.3L201.9,85.5L201.9,86.7L202.0,87.9L202.0,89.1L202.0,90.3L202.0,91.5L202.1,92.7L202.1,94.0L202.1,95.2L202.1,96.4L202.2,97.6L202.2,98.8L202.2,100.1L202.2,101.3L202.3,102.5L202.3,103.7L202.3,105.0L202.3,106.2L202.3,107.4L202.4,108.6L202.4,109.9L202.4,111.1L202.4,112.3L202.5,113.6L202.5,114.8L202.5,116.0L202.5,117.3L202.6,118.5L202.6,119.7L202.6,121.0L202.6,122.2L202.7,123.5L202.7,124.7L202.7,125.9L202.7,127.2L202.8,128.4L202.8,129.6L202.8,130.9L202.8,132.1L202.9,133.4L202.9,134.6L202.9,135.8L202.9,137.1L203.0,138.3L203.0,139.6L203.0,140.8L203.0,142.0L203.1,143.3L203.1,144.5L203.1,145.7L203.1,147.0L203.1,148.2L203.2,149.4L203.2,150.7L203.2,151.9L203.2,153.1L203.3,154.4L203.3,155.6L203.3,156.8L203.3,158.1L203.4,159.3L203.4,160.5L203.4,161.7L203.4,163.0L203.5,164.2L203.5,165.4L203.5,166.6L203.5,167.9L203.6,169.1L203.6,170.3L203.6,171.5L203.6,172.7L203.7,173.9L203.7,175.1L203.7,176.4L203.7,177.6L203.8,178.8L203.8,180.0L203.8,181.2L203.8,182.4L203.8,183.6L203.9,184.8L203.9,186.0L203.9,187.1L203.9,188.3L204.0,189.5L204.0,190.7L204.0,191.9L204.0,193.1L204.1,194.2L204.1,195.4L204.1,196.6L204.1,197.8L204.2,198.9L204.2,200.1L204.2,201.3L204.2,202.4L204.3,203.6L204.3,204.7L204.3,205.9L204.3,207.0L204.4,208.2L204.4,209.3L204.4,210.5L204.4,211.6L204.5,212.7L204.5,213.9L204.5,215.0L204.5,216.1L204.6,217.2L204.6,218.3L204.6,219.5L204.6,220.6L204.6,221.7L204.7,222.8L204.7,223.9L204.7,225.0L204.7,226.1L204.8,227.1L204.8,228.2L204.8,229.3L204.8,230.4L204.9,231.4L204.9,232.5L204.9,233.6L204.9,234.6L205.0,235.7L205.0,236.7L205.0,237.8L205.0,238.8L205.1,239.9L205.1,240.9L205.1,241.9L205.1,243.0L205.2,244.0L205.2,245.0L205.2,246.0L205.2,247.0L205.3,248.0L205.3,249.0L205.3,250.0L205.3,251.8L205.4,253.5L205.4,255.3L205.5,257.1L205.5,258.8L205.6,260.6L205.6,262.4L205.6,264.1L205.7,265.9L205.7,267.6L205.8,269.4L205.8,271.1L205.9,272.9L205.9,274.6L205.9,276.4L206.0,278.1L206.0,279.8L206.1,281.6L206.1,283.3L206.2,285.0L206.2,286.8L206.3,288.5L206.3,290.2L206.3,291.9L206.4,293.6L206.4,295.3L206.5,297.0L206.5,298.7L206.6,300.4L206.6,302.1L206.6,303.8L206.7,305.5L206.7,307.1L206.8,308.8L206.8,310.5L206.9,312.1L206.9,313.8L206.9,315.4L207.0,317.1L207.0,318.7L207.1,320.3L207.1,322.0L207.2,323.6L207.2,325.2L207.2,326.8L207.3,328.4L207.3,330.0L207.4,331.5L207.4,333.1L207.5,334.7L207.5,336.2L207.5,337.8L207.6,339.3L207.6,340.9L207.7,342.4L207.7,343.9L207.8,345.4L207.8,346.9L207.9,348.4L207.9,349.9L207.9,351.4L208.0,352.8L208.0,354.3L208.1,355.7L208.1,357.2L208.2,358.6L208.2,360.0L208.2,361.4L208.3,362.8L208.3,364.2L208.4,365.6L208.4,366.9L208.5,368.3L208.5,369.6L208.5,371.0L208.6,372.3L208.6,373.6L208.7,374.9L208.7,376.2L208.8,377.5L208.8,378.7L208.8,380.0L208.9,381.2L208.9,382.5L209.0,383.7L209.0,384.9L209.1,386.1L209.1,387.2L209.1,388.4L209.2,389.6L209.2,390.7L209.3,391.8L209.3,392.9L209.4,394.0L209.4,395.1L209.4,396.2L209.5,397.3L209.5,398.3L209.6,399.3L209.6,400.4L209.7,401.4L209.7,402.3L209.8,403.3L209.8,404.3L209.8,405.2L209.9,406.1L209.9,407.0L210.0,407.9L210.0,408.8L210.1,409.7L210.1,410.5L210.1,411.4L210.2,412.2L210.2,413.0L210.3,413.8L210.3,414.5L210.4,415.3L210.4,416.0L210.4,416.7L210.5,417.4L210.5,418.1L210.6,418.8L210.6,419.4L210.7,420.0L210.7,420.7L210.7,421.3L210.8,421.8L210.8,422.4L210.9,422.9L210.9,423.4L211.0,423.9L211.0,424.4L211.0,424.9L211.1,425.3L211.1,425.8L211.2,426.2L211.2,426.5L211.3,426.9L211.3,427.3L211.4,427.6L211.4,427.9L211.4,428.2L211.5,428.4L211.5,428.7L211.6,428.9L211.6,429.1L211.7,429.3L211.7,429.5L211.7,429.6L211.8,429.7L211.8,429.8L211.9,429.9L211.9,430.0L212.0,430.0L212.0,430.0L212.1,429.9L212.2,429.7L212.3,429.3L212.4,428.8L212.5,428.1L212.6,427.4L212.7,426.5L212.8,425.5L212.9,424.4L212.9,423.2L213.0,422.0L213.1,420.7L213.2,419.3L213.3,417.9L213.4,416.4L213.5,414.9L213.6,413.3L213.7,411.7L213.8,410.1L213.9,408.5L214.0,406.9L214.1,405.2L214.2,403.5L214.3,401.8L214.4,400.1L214.5,398.4L214.6,396.7L214.7,394.9L214.8,393.2L214.8,391.5L214.9,389.7L215.0,388.0L215.1,386.2L215.2,384.5L215.3,382.8L215.4,381.0L215.5,379.3L215.6,377.6L215.7,375.8L215.8,374.1L215.9,372.4L216.0,370.7L216.1,369.0L216.2,367.3L216.3,365.6L216.4,363.9L216.5,362.2L216.6,360.6L216.7,358.9L216.7,357.3L216.8,355.6L216.9,354.0L217.0,352.4L217.1,350.8L217.2,349.2L217.3,347.6L217.4,346.0L217.5,344.5L217.6,342.9L217.7,341.4L217.8,339.9L217.9,338.4L218.0,336.9L218.1,335.4L218.2,333.9L218.3,332.5L218.4,331.1L218.5,329.6L218.6,328.2L218.6,326.8L218.7,325.5L218.8,324.1L218.9,322.8L219.0,321.4L219.1,320.1L219.2,318.8L219.3,317.5L219.4,316.3L219.5,315.0L219.6,313.8L219.7,312.6L219.8,311.4L219.9,310.2L220.0,309.1L220.1,307.9L220.2,306.8L220.3,305.7L220.4,304.6L220.4,303.6L220.5,302.5L220.6,301.5L220.7,300.5L220.8,299.5L220.9,298.5L221.0,297.6L221.1,296.7L221.2,295.8L221.3,294.9L221.4,294.0L221.5,293.2L221.6,292.3L221.7,291.5L221.8,290.7L221.9,290.0L222.0,289.2L222.1,288.5L222.2,287.8L222.3,287.1L222.3,286.5L222.4,285.8L222.5,285.2L222.6,284.6L222.7,284.1L222.8,283.5L222.9,283.0L223.0,282.5L223.1,282.0L223.2,281.5L223.3,281.1L223.4,280.7L223.5,280.3L223.6,279.9L223.7,279.6L223.8,279.2L223.9,278.9L224.0,278.6L224.1,278.4L224.2,278.1L224.2,277.9L224.3,277.7L224.4,277.6L224.5,277.4L224.6,277.3L224.7,277.2L224.8,277.1L224.9,277.0L225.0,277.0L225.1,277.0L225.2,277.0L225.3,277.0L225.4,277.1L225.6,277.2L225.7,277.3L225.8,277.4L225.9,277.5L226.0,277.7L226.1,277.9L226.2,278.1L226.3,278.3L226.5,278.6L226.6,278.8L226.7,279.1L226.8,279.4L226.9,279.8L227.0,280.1L227.1,280.5L227.3,280.9L227.4,281.3L227.5,281.8L227.6,282.2L227.7,282.7L227.8,283.2L227.9,283.7L228.0,284.3L228.2,284.8L228.3,285.4L228.4,286.0L228.5,286.7L228.6,287.3L228.7,288.0L228.8,288.7L229.0,289.4L229.1,290.1L229.2,290.8L229.3,291.6L229.4,292.4L229.5,293.2L229.6,294.0L229.7,294.9L229.9,295.7L230.0,296.6L230.1,297.5L230.2,298.5L230.3,299.4L230.4,300.4L230.5,301.3L230.7,302.3L230.8,303.3L230.9,304.4L231.0,305.4L231.1,306.5L231.2,307.6L231.3,308.7L231.4,309.8L231.6,311.0L231.7,312.1L231.8,313.3L231.9,314.5L232.0,315.7L232.1,316.9L232.2,318.2L232.4,319.4L232.5,320.7L232.6,322.0L232.7,323.3L232.8,324.6L232.9,325.9L233.0,327.3L233.1,328.6L233.3,330.0L233.4,331.4L233.5,332.8L233.6,334.2L233.7,335.7L233.8,337.1L233.9,338.6L234.0,340.1L234.2,341.6L234.3,343.1L234.4,344.6L234.5,346.1L234.6,347.6L234.7,349.2L234.8,350.7L235.0,352.3L235.1,353.9L235.2,355.5L235.3,357.1L235.4,358.7L235.5,360.3L235.6,361.9L235.7,363.6L235.9,365.2L236.0,366.9L236.1,368.5L236.2,370.2L236.3,371.9L236.4,373.6L236.5,375.3L236.7,377.0L236.8,378.7L236.9,380.4L237.0,382.1L237.1,383.8L237.2,385.5L237.3,387.2L237.4,388.9L237.6,390.6L237.7,392.4L237.8,394.1L237.9,395.8L238.0,397.5L238.1,399.2L238.2,400.9L238.4,402.6L238.5,404.3L238.6,406.0L238.7,407.6L238.8,409.3L238.9,410.9L239.0,412.5L239.1,414.1L239.3,415.7L239.4,417.2L239.5,418.7L239.6,420.2L239.7,421.6L239.8,423.0L239.9,424.3L240.1,425.6L240.2,426.8L240.3,427.9L240.4,429.0L240.5,429.9L240.6,430.8L240.7,431.5L240.8,432.2L241.0,432.7L241.1,433.0L241.2,433.2L241.3,433.3L241.4,433.2L241.6,433.0L241.7,432.5L241.9,431.9L242.0,431.2L242.2,430.4L242.3,429.4L242.5,428.3L242.6,427.1L242.8,425.9L242.9,424.6L243.1,423.2L243.2,421.8L243.4,420.3L243.5,418.8L243.7,417.3L243.8,415.8L244.0,414.2L244.1,412.6L244.3,411.0L244.4,409.4L244.6,407.7L244.7,406.1L244.9,404.4L245.0,402.8L245.2,401.1L245.3,399.5L245.5,397.8L245.6,396.2L245.8,394.5L245.9,392.9L246.1,391.2L246.2,389.6L246.4,388.0L246.5,386.3L246.7,384.7L246.8,383.1L247.0,381.5L247.1,379.9L247.3,378.3L247.4,376.8L247.6,375.2L247.7,373.7L247.9,372.1L248.0,370.6L248.2,369.1L248.3,367.6L248.5,366.1L248.6,364.6L248.8,363.2L248.9,361.7L249.1,360.3L249.2,358.9L249.4,357.5L249.5,356.1L249.7,354.8L249.8,353.4L250.0,352.1L250.1,350.8L250.3,349.5L250.4,348.2L250.6,346.9L250.7,345.7L250.9,344.5L251.0,343.3L251.2,342.1L251.3,341.0L251.5,339.8L251.6,338.7L251.8,337.6L251.9,336.5L252.1,335.5L252.2,334.4L252.4,333.4L252.5,332.4L252.7,331.4L252.8,330.5L253.0,329.6L253.1,328.7L253.3,327.8L253.4,326.9L253.6,326.1L253.7,325.3L253.9,324.5L254.0,323.7L254.2,323.0L254.3,322.2L254.5,321.5L254.6,320.9L254.8,320.2L254.9,319.6L255.1,319.0L255.2,318.4L255.4,317.9L255.5,317.4L255.7,316.9L255.8,316.4L256.0,315.9L256.1,315.5L256.3,315.1L256.4,314.7L256.6,314.4L256.7,314.1L256.9,313.8L257.0,313.5L257.2,313.2L257.3,313.0L257.5,312.8L257.6,312.7L257.8,312.5L257.9,312.4L258.1,312.3L258.2,312.3L258.4,312.2L258.5,312.2L258.7,312.2L258.8,312.2L259.0,312.3L259.1,312.4L259.3,312.5L259.4,312.6L259.6,312.8L259.7,313.0L259.9,313.2L260.0,313.4L260.2,313.7L260.4,314.0L260.5,314.3L260.7,314.6L260.8,315.0L261.0,315.4L261.1,315.8L261.3,316.2L261.4,316.6L261.6,317.1L261.7,317.6L261.9,318.1L262.0,318.7L262.2,319.3L262.4,319.9L262.5,320.5L262.7,321.1L262.8,321.8L263.0,322.5L263.1,323.2L263.3,323.9L263.4,324.7L263.6,325.5L263.7,326.3L263.9,327.1L264.1,327.9L264.2,328.8L264.4,329.7L264.5,330.6L264.7,331.5L264.8,332.5L265.0,333.4L265.1,334.4L265.3,335.5L265.4,336.5L265.6,337.5L265.7,338.6L265.9,339.7L266.1,340.8L266.2,342.0L266.4,343.1L266.5,344.3L266.7,345.5L266.8,346.7L267.0,347.9L267.1,349.2L267.3,350.4L267.4,351.7L267.6,353.0L267.8,354.3L267.9,355.7L268.1,357.0L268.2,358.4L268.4,359.7L268.5,361.1L268.7,362.5L268.8,364.0L269.0,365.4L269.1,366.9L269.3,368.3L269.4,369.8L269.6,371.3L269.8,372.8L269.9,374.3L270.1,375.8L270.2,377.4L270.4,378.9L270.5,380.5L270.7,382.1L270.8,383.7L271.0,385.2L271.1,386.8L271.3,388.5L271.4,390.1L271.6,391.7L271.8,393.3L271.9,394.9L272.1,396.6L272.2,398.2L272.4,399.9L272.5,401.5L272.7,403.2L272.8,404.8L273.0,406.5L273.1,408.1L273.3,409.7L273.5,411.4L273.6,413.0L273.8,414.6L273.9,416.2L274.1,417.8L274.2,419.4L274.4,420.9L274.5,422.5L274.7,424.0L274.8,425.4L275.0,426.9L275.1,428.3L275.3,429.6L275.5,430.9L275.6,432.1L275.8,433.2L275.9,434.2L276.1,435.2L276.2,436.0L276.4,436.7L276.5,437.3L276.7,437.7L276.8,437.9L277.0,438.0L277.2,437.9L277.4,437.5L277.6,436.9L277.8,436.1L278.0,435.2L278.2,434.1L278.4,432.9L278.6,431.6L278.8,430.2L279.0,428.8L279.2,427.3L279.4,425.8L279.7,424.3L279.9,422.7L280.1,421.1L280.3,419.6L280.5,418.0L280.7,416.4L280.9,414.8L281.1,413.2L281.3,411.7L281.5,410.1L281.7,408.5L281.9,407.0L282.1,405.4L282.3,403.9L282.5,402.4L282.7,400.9L282.9,399.4L283.1,397.9L283.3,396.5L283.5,395.0L283.7,393.6L283.9,392.2L284.1,390.9L284.3,389.5L284.5,388.2L284.7,386.9L285.0,385.6L285.2,384.4L285.4,383.1L285.6,381.9L285.8,380.8L286.0,379.6L286.2,378.5L286.4,377.4L286.6,376.4L286.8,375.3L287.0,374.4L287.2,373.4L287.4,372.5L287.6,371.6L287.8,370.7L288.0,369.8L288.2,369.0L288.4,368.3L288.6,367.5L288.8,366.8L289.0,366.2L289.2,365.5L289.4,364.9L289.6,364.3L289.8,363.8L290.0,363.3L290.3,362.9L290.5,362.4L290.7,362.1L290.9,361.7L291.1,361.4L291.3,361.1L291.5,360.9L291.7,360.7L291.9,360.5L292.1,360.4L292.3,360.3L292.5,360.2L292.7,360.2L292.9,360.2L293.1,360.3L293.3,360.4L293.5,360.5L293.8,360.6L294.0,360.8L294.2,361.0L294.4,361.3L294.6,361.6L294.8,361.9L295.0,362.2L295.2,362.6L295.4,363.0L295.7,363.5L295.9,364.0L296.1,364.5L296.3,365.0L296.5,365.6L296.7,366.2L296.9,366.9L297.1,367.6L297.3,368.3L297.5,369.0L297.8,369.8L298.0,370.6L298.2,371.4L298.4,372.3L298.6,373.1L298.8,374.1L299.0,375.0L299.2,376.0L299.4,377.0L299.7,378.0L299.9,379.0L300.1,380.1L300.3,381.2L300.5,382.4L300.7,383.5L300.9,384.7L301.1,385.9L301.3,387.1L301.6,388.4L301.8,389.7L302.0,391.0L302.2,392.3L302.4,393.6L302.6,395.0L302.8,396.3L303.0,397.7L303.2,399.1L303.5,400.6L303.7,402.0L303.9,403.5L304.1,405.0L304.3,406.4L304.5,408.0L304.7,409.5L304.9,411.0L305.1,412.5L305.4,414.1L305.6,415.6L305.8,417.2L306.0,418.7L306.2,420.3L306.4,421.8L306.6,423.4L306.8,424.9L307.0,426.5L307.2,428.0L307.5,429.5L307.7,431.0L307.9,432.4L308.1,433.8L308.3,435.2L308.5,436.5L308.7,437.7L308.9,438.9L309.1,439.9L309.4,440.8L309.6,441.5L309.8,442.1L310.0,442.4L310.2,442.5L310.4,442.4L310.6,442.1L310.8,441.6L311.0,440.9L311.3,440.0L311.5,439.0L311.7,437.9L311.9,436.7L312.1,435.4L312.3,434.1L312.5,432.7L312.7,431.3L312.9,429.8L313.1,428.3L313.4,426.8L313.6,425.3L313.8,423.8L314.0,422.2L314.2,420.7L314.4,419.1L314.6,417.6L314.8,416.0L315.0,414.5L315.2,412.9L315.5,411.4L315.7,409.8L315.9,408.3L316.1,406.8L316.3,405.3L316.5,403.8L316.7,402.3L316.9,400.9L317.1,399.4L317.4,398.0L317.6,396.6L317.8,395.2L318.0,393.8L318.2,392.4L318.4,391.1L318.6,389.7L318.8,388.4L319.0,387.1L319.2,385.9L319.5,384.6L319.7,383.4L319.9,382.2L320.1,381.0L320.3,379.8L320.5,378.7L320.7,377.6L320.9,376.5L321.1,375.4L321.3,374.4L321.6,373.4L321.8,372.4L322.0,371.5L322.2,370.5L322.4,369.6L322.6,368.7L322.8,367.9L323.0,367.1L323.2,366.3L323.5,365.5L323.7,364.8L323.9,364.1L324.1,363.4L324.3,362.8L324.5,362.2L324.7,361.6L324.9,361.0L325.1,360.5L325.3,360.0L325.6,359.5L325.8,359.1L326.0,358.7L326.2,358.3L326.4,358.0L326.6,357.7L326.8,357.4L327.0,357.2L327.2,357.0L327.4,356.8L327.7,356.7L327.9,356.5L328.1,356.5L328.3,356.4L328.5,356.4L328.7,356.4L328.9,356.5L329.1,356.5L329.3,356.6L329.4,356.7L329.6,356.9L329.8,357.0L330.0,357.2L330.2,357.5L330.4,357.7L330.6,358.0L330.8,358.3L330.9,358.6L331.1,359.0L331.3,359.4L331.5,359.8L331.7,360.2L331.9,360.7L332.1,361.2L332.3,361.7L332.4,362.2L332.6,362.8L332.8,363.4L333.0,364.0L333.2,364.6L333.4,365.3L333.6,365.9L333.8,366.7L334.0,367.4L334.1,368.1L334.3,368.9L334.5,369.7L334.7,370.6L334.9,371.4L335.1,372.3L335.3,373.2L335.5,374.1L335.6,375.1L335.8,376.0L336.0,377.0L336.2,378.0L336.4,379.1L336.6,380.1L336.8,381.2L337.0,382.3L337.2,383.4L337.3,384.5L337.5,385.7L337.7,386.9L337.9,388.1L338.1,389.3L338.3,390.5L338.5,391.8L338.7,393.0L338.8,394.3L339.0,395.6L339.2,396.9L339.4,398.3L339.6,399.6L339.8,401.0L340.0,402.4L340.2,403.8L340.3,405.2L340.5,406.7L340.7,408.1L340.9,409.6L341.1,411.0L341.3,412.5L341.5,414.0L341.7,415.5L341.9,417.1L342.0,418.6L342.2,420.1L342.4,421.7L342.6,423.3L342.8,424.8L343.0,426.4L343.2,428.0L343.4,429.6L343.5,431.2L343.7,432.8L343.9,434.4L344.1,436.0L344.3,437.6L344.5,439.2L344.7,440.8L344.9,442.4L345.1,444.0L345.2,445.5L345.4,447.1L345.6,448.7L345.8,450.2L346.0,451.8L346.2,453.3L346.4,454.7L346.6,456.2L346.7,457.6L346.9,458.9L347.1,460.2L347.3,461.5L347.5,462.7L347.7,463.7L347.9,464.7L348.1,465.6L348.2,466.3L348.4,466.9L348.6,467.3L348.8,467.6L349.0,467.7L349.3,467.6L349.5,467.2L349.8,466.6L350.1,465.8L350.3,464.9L350.6,463.8L350.9,462.7L351.2,461.4L351.4,460.1L351.7,458.8L352.0,457.4L352.2,456.0L352.5,454.5L352.8,453.1L353.0,451.6L353.3,450.2L353.6,448.7L353.8,447.2L354.1,445.8L354.4,444.3L354.6,442.9L354.9,441.4L355.2,440.0L355.5,438.6L355.7,437.2L356.0,435.8L356.3,434.4L356.5,433.1L356.8,431.7L357.1,430.4L357.3,429.1L357.6,427.9L357.9,426.6L358.1,425.4L358.4,424.2L358.7,423.0L359.0,421.9L359.2,420.7L359.5,419.6L359.8,418.6L360.0,417.5L360.3,416.5L360.6,415.5L360.8,414.6L361.1,413.6L361.4,412.7L361.6,411.9L361.9,411.0L362.2,410.2L362.5,409.5L362.7,408.7L363.0,408.0L363.3,407.4L363.5,406.7L363.8,406.1L364.1,405.6L364.3,405.0L364.6,404.5L364.9,404.1L365.1,403.6L365.4,403.3L365.7,402.9L365.9,402.6L366.2,402.3L366.5,402.1L366.8,401.9L367.0,401.7L367.3,401.6L367.6,401.5L367.8,401.4L368.1,401.4L368.5,401.4L368.8,401.5L369.2,401.5L369.5,401.6L369.9,401.7L370.2,401.9L370.6,402.1L370.9,402.3L371.3,402.5L371.7,402.7L372.0,403.0L372.4,403.3L372.7,403.7L373.1,404.0L373.4,404.4L373.8,404.8L374.1,405.3L374.5,405.7L374.9,406.2L375.2,406.7L375.6,407.3L375.9,407.8L376.3,408.4L376.6,409.0L377.0,409.7L377.3,410.3L377.7,411.0L378.1,411.7L378.4,412.5L378.8,413.2L379.1,414.0L379.5,414.8L379.8,415.6L380.2,416.5L380.5,417.4L380.9,418.2L381.3,419.2L381.6,420.1L382.0,421.0L382.3,422.0L382.7,423.0L383.0,424.0L383.4,425.1L383.7,426.1L384.1,427.2L384.5,428.3L384.8,429.4L385.2,430.5L385.5,431.6L385.9,432.8L386.2,434.0L386.6,435.2L386.9,436.4L387.3,437.6L387.7,438.8L388.0,440.0L388.4,441.3L388.7,442.6L389.1,443.8L389.4,445.1L389.8,446.4L390.1,447.7L390.5,449.1L390.9,450.4L391.2,451.7L391.6,453.1L391.9,454.4L392.3,455.7L392.6,457.1L393.0,458.4L393.3,459.8L393.7,461.1L394.1,462.4L394.4,463.8L394.8,465.1L395.1,466.4L395.5,467.6L395.8,468.9L396.2,470.1L396.5,471.3L396.9,472.4L397.3,473.5L397.6,474.5L398.0,475.5L398.3,476.3L398.7,477.0L399.0,477.6L399.4,478.0L399.7,478.3L400.1,478.4L400.4,478.3L400.7,477.9L401.0,477.4L401.3,476.7L401.7,475.8L402.0,474.8L402.3,473.7L402.6,472.5L402.9,471.2L403.2,469.9L403.5,468.6L403.8,467.3L404.1,465.9L404.5,464.5L404.8,463.1L405.1,461.7L405.4,460.3L405.7,458.9L406.0,457.5L406.3,456.1L406.6,454.7L406.9,453.3L407.3,451.9L407.6,450.5L407.9,449.2L408.2,447.8L408.5,446.5L408.8,445.2L409.1,443.9L409.4,442.6L409.7,441.3L410.1,440.1L410.4,438.9L410.7,437.7L411.0,436.5L411.3,435.3L411.6,434.2L411.9,433.1L412.2,432.0L412.5,430.9L412.8,429.9L413.2,428.9L413.5,427.9L413.8,427.0L414.1,426.0L414.4,425.1L414.7,424.3L415.0,423.4L415.3,422.6L415.6,421.8L416.0,421.1L416.3,420.4L416.6,419.7L416.9,419.0L417.2,418.4L417.5,417.8L417.8,417.2L418.1,416.7L418.4,416.2L418.8,415.7L419.1,415.3L419.4,414.9L419.7,414.5L420.0,414.2L420.3,413.9L420.6,413.7L420.9,413.4L421.2,413.2L421.6,413.1L421.9,413.0L422.2,412.9L422.5,412.8L422.8,412.8L423.1,412.8L423.4,412.9L423.7,413.0L424.0,413.1L424.3,413.3L424.6,413.5L424.8,413.7L425.1,414.0L425.4,414.4L425.7,414.7L426.0,415.1L426.3,415.6L426.6,416.0L426.9,416.5L427.2,417.1L427.5,417.7L427.8,418.3L428.1,418.9L428.4,419.6L428.7,420.4L428.9,421.1L429.2,421.9L429.5,422.7L429.8,423.6L430.1,424.5L430.4,425.4L430.7,426.3L431.0,427.3L431.3,428.3L431.6,429.4L431.9,430.4L432.2,431.5L432.5,432.7L432.7,433.8L433.0,435.0L433.3,436.2L433.6,437.4L433.9,438.6L434.2,439.9L434.5,441.2L434.8,442.5L435.1,443.8L435.4,445.2L435.7,446.5L436.0,447.9L436.3,449.3L436.5,450.7L436.8,452.1L437.1,453.5L437.4,455.0L437.7,456.4L438.0,457.8L438.3,459.2L438.6,460.7L438.9,462.1L439.2,463.5L439.5,464.8L439.8,466.2L440.1,467.5L440.4,468.7L440.6,469.9L440.9,471.0L441.2,471.9L441.5,472.7L441.8,473.3L442.1,473.7L442.4,473.8L442.7,473.7L443.0,473.3L443.2,472.7L443.5,471.9L443.8,471.0L444.1,469.9L444.4,468.8L444.6,467.5L444.9,466.2L445.2,464.9L445.5,463.5L445.8,462.1L446.0,460.6L446.3,459.2L446.6,457.7L446.9,456.3L447.2,454.8L447.4,453.3L447.7,451.9L448.0,450.4L448.3,449.0L448.6,447.5L448.8,446.1L449.1,444.7L449.4,443.3L449.7,441.9L450.0,440.5L450.2,439.2L450.5,437.8L450.8,436.5L451.1,435.2L451.4,434.0L451.6,432.7L451.9,431.5L452.2,430.3L452.5,429.1L452.8,428.0L453.1,426.8L453.3,425.7L453.6,424.7L453.9,423.6L454.2,422.6L454.5,421.6L454.7,420.7L455.0,419.7L455.3,418.8L455.6,418.0L455.9,417.1L456.1,416.3L456.4,415.6L456.7,414.8L457.0,414.1L457.3,413.5L457.5,412.8L457.8,412.2L458.1,411.7L458.4,411.1L458.7,410.6L458.9,410.2L459.2,409.7L459.5,409.4L459.8,409.0L460.1,408.7L460.3,408.4L460.6,408.2L460.9,408.0L461.2,407.8L461.5,407.7L461.7,407.6L462.0,407.5L462.3,407.5L462.6,407.5L462.9,407.6L463.2,407.7L463.5,407.8L463.8,408.0L464.2,408.2L464.5,408.5L464.8,408.8L465.1,409.1L465.4,409.5L465.7,409.9L466.0,410.3L466.3,410.8L466.6,411.3L466.9,411.9L467.2,412.5L467.6,413.1L467.9,413.8L468.2,414.5L468.5,415.2L468.8,416.0L469.1,416.8L469.4,417.7L469.7,418.5L470.0,419.4L470.3,420.4L470.7,421.3L471.0,422.3L471.3,423.4L471.6,424.4L471.9,425.5L472.2,426.6L472.5,427.8L472.8,428.9L473.1,430.1L473.4,431.3L473.7,432.6L474.1,433.8L474.4,435.1L474.7,436.4L475.0,437.7L475.3,439.0L475.6,440.4L475.9,441.7L476.2,443.1L476.5,444.5L476.8,445.9L477.2,447.3L477.5,448.7L477.8,450.1L478.1,451.5L478.4,452.9L478.7,454.3L479.0,455.6L479.3,456.9L479.6,458.2L479.9,459.5L480.2,460.6L480.6,461.7L480.9,462.7L481.2,463.5L481.5,464.1L481.8,464.5L482.1,464.6L482.5,464.4L482.8,464.0L483.2,463.3L483.6,462.4L483.9,461.4L484.3,460.3L484.7,459.1L485.1,457.8L485.4,456.5L485.8,455.2L486.2,453.9L486.5,452.5L486.9,451.2L487.3,449.9L487.6,448.5L488.0,447.2L488.4,445.9L488.7,444.7L489.1,443.4L489.5,442.1L489.9,440.9L490.2,439.7L490.6,438.6L491.0,437.4L491.3,436.3L491.7,435.2L492.1,434.1L492.4,433.1L492.8,432.1L493.2,431.2L493.5,430.2L493.9,429.4L494.3,428.5L494.7,427.7L495.0,426.9L495.4,426.2L495.8,425.5L496.1,424.9L496.5,424.3L496.9,423.7L497.2,423.2L497.6,422.7L498.0,422.3L498.3,421.9L498.7,421.5L499.1,421.2L499.5,421.0L499.8,420.8L500.2,420.6L500.6,420.5L500.9,420.4L501.3,420.4L501.6,420.4L501.9,420.5L502.2,420.6L502.5,420.7L502.8,420.9L503.1,421.1L503.4,421.3L503.7,421.6L504.0,421.9L504.3,422.2L504.6,422.6L505.0,423.0L505.3,423.5L505.6,423.9L505.9,424.5L506.2,425.0L506.5,425.6L506.8,426.2L507.1,426.9L507.4,427.6L507.7,428.3L508.0,429.0L508.3,429.8L508.6,430.6L508.9,431.5L509.2,432.3L509.5,433.3L509.8,434.2L510.1,435.2L510.4,436.2L510.7,437.2L511.0,438.2L511.3,439.3L511.6,440.4L511.9,441.5L512.3,442.7L512.6,443.9L512.9,445.0L513.2,446.3L513.5,447.5L513.8,448.8L514.1,450.1L514.4,451.4L514.7,452.7L515.0,454.0L515.3,455.4L515.6,456.7L515.9,458.1L516.2,459.5L516.5,460.9L516.8,462.3L517.1,463.8L517.4,465.2L517.7,466.6L518.0,468.1L518.3,469.5L518.6,470.9L518.9,472.3L519.2,473.7L519.6,475.1L519.9,476.5L520.2,477.8L520.5,479.1L520.8,480.3L521.1,481.4L521.4,482.5L521.7,483.4L522.0,484.1L522.3,484.7L522.6,485.1L522.9,485.2L523.3,485.0L523.8,484.5L524.2,483.8L524.7,482.9L525.1,481.9L525.6,480.8L526.0,479.6L526.5,478.4L526.9,477.2L527.4,476.0L527.8,474.8L528.3,473.7L528.7,472.5L529.1,471.3L529.6,470.2L530.0,469.1L530.5,468.0L530.9,467.0L531.4,465.9L531.8,464.9L532.3,464.0L532.7,463.0L533.2,462.2L533.6,461.3L534.1,460.5L534.5,459.7L535.0,459.0L535.4,458.3L535.8,457.7L536.3,457.1L536.7,456.6L537.2,456.1L537.6,455.7L538.1,455.3L538.5,454.9L539.0,454.7L539.4,454.4L539.9,454.2L540.3,454.1L540.8,454.0L541.2,454.0L542.1,454.0L542.9,454.1L543.8,454.2L544.6,454.3L545.5,454.5L546.4,454.7L547.2,454.9L548.1,455.2L548.9,455.5L549.8,455.9L550.7,456.2L551.5,456.6L552.4,457.1L553.3,457.6L554.1,458.1L555.0,458.6L555.8,459.1L556.7,459.7L557.6,460.3L558.4,461.0L559.3,461.6L560.1,462.3L561.0,463.0L561.6,463.5L562.2,464.1L562.7,464.7L563.3,465.4L563.9,466.2L564.5,466.9L565.0,467.7L565.6,468.6L566.2,469.4L566.8,470.3L567.3,471.2L567.9,472.1L568.5,473.0L569.1,473.9L569.6,474.8L570.2,475.6L570.8,476.5L571.4,477.2L571.9,478.0L572.5,478.7L573.1,479.4L573.7,480.0L574.2,480.5L574.8,481.0L575.4,481.4L576.0,481.8L576.5,482.0L577.1,482.1L577.7,482.2L578.2,482.1L578.6,481.6L579.1,481.0L579.5,480.2L580.0,479.2L580.4,478.2L580.9,477.1L581.3,475.9L581.8,474.7L582.2,473.6L582.7,472.4L583.1,471.2L583.6,470.0L584.0,468.8L584.5,467.6L584.9,466.4L585.4,465.3L585.9,464.1L586.3,463.0L586.8,461.9L587.2,460.9L587.7,459.8L588.1,458.8L588.6,457.8L589.0,456.8L589.5,455.9L589.9,455.0L590.4,454.1L590.8,453.3L591.3,452.5L591.7,451.7L592.2,451.0L592.7,450.3L593.1,449.7L593.6,449.0L594.0,448.5L594.5,447.9L594.9,447.4L595.4,447.0L595.8,446.6L596.3,446.2L596.7,445.9L597.2,445.6L597.6,445.4L598.1,445.2L598.5,445.0L599.0,444.9L599.4,444.8L599.9,444.8L600.3,444.8L600.7,444.9L601.1,445.0L601.5,445.2L602.0,445.4L602.4,445.6L602.8,445.9L603.2,446.3L603.6,446.6L604.0,447.1L604.4,447.5L604.8,448.1L605.3,448.6L605.7,449.2L606.1,449.8L606.5,450.5L606.9,451.2L607.3,452.0L607.7,452.8L608.1,453.6L608.6,454.5L609.0,455.4L609.4,456.4L609.8,457.3L610.2,458.3L610.6,459.4L611.0,460.4L611.4,461.5L611.8,462.6L612.3,463.8L612.7,464.9L613.1,466.1L613.5,467.3L613.9,468.6L614.3,469.8L614.7,471.1L615.1,472.3L615.6,473.6L616.0,474.9L616.4,476.1L616.8,477.4L617.2,478.6L617.6,479.8L618.0,481.0L618.4,482.1L618.9,483.1L619.3,483.9L619.7,484.6L620.1,485.0L620.5,485.2L620.8,485.1L621.2,484.7L621.5,484.1L621.8,483.3L622.2,482.3L622.5,481.3L622.8,480.1L623.2,478.9L623.5,477.6L623.8,476.3L624.2,475.0L624.5,473.6L624.8,472.3L625.2,470.9L625.5,469.5L625.8,468.1L626.2,466.7L626.5,465.3L626.8,464.0L627.2,462.6L627.5,461.3L627.8,460.0L628.2,458.6L628.5,457.3L628.8,456.1L629.2,454.8L629.5,453.6L629.8,452.3L630.2,451.1L630.5,450.0L630.8,448.8L631.1,447.7L631.5,446.6L631.8,445.5L632.1,444.5L632.5,443.5L632.8,442.5L633.1,441.5L633.5,440.6L633.8,439.7L634.1,438.8L634.5,438.0L634.8,437.2L635.1,436.4L635.5,435.7L635.8,435.0L636.1,434.4L636.5,433.7L636.8,433.1L637.1,432.6L637.5,432.1L637.8,431.6L638.1,431.1L638.5,430.7L638.8,430.4L639.1,430.0L639.5,429.8L639.8,429.5L640.1,429.3L640.5,429.1L640.8,429.0L641.1,428.9L641.5,428.8L641.8,428.8L642.1,428.8L642.5,428.9L642.8,429.0L643.2,429.1L643.5,429.3L643.9,429.5L644.2,429.8L644.6,430.1L644.9,430.4L645.3,430.8L645.6,431.2L645.9,431.6L646.3,432.1L646.6,432.7L647.0,433.2L647.3,433.8L647.7,434.5L648.0,435.1L648.4,435.8L648.7,436.6L649.0,437.4L649.4,438.2L649.7,439.0L650.1,439.9L650.4,440.8L650.8,441.8L651.1,442.7L651.5,443.7L651.8,444.8L652.2,445.8L652.5,446.9L652.8,448.0L653.2,449.2L653.5,450.3L653.9,451.5L654.2,452.7L654.6,454.0L654.9,455.2L655.3,456.5L655.6,457.8L656.0,459.1L656.3,460.4L656.6,461.7L657.0,463.1L657.3,464.5L657.7,465.8L658.0,467.2L658.4,468.6L658.7,469.9L659.1,471.3L659.4,472.6L659.7,474.0L660.1,475.3L660.4,476.6L660.8,477.8L661.1,478.9L661.5,480.0L661.8,481.0L662.2,481.8L662.5,482.4L662.9,482.8L663.2,482.9L663.6,482.7L663.9,482.3L664.3,481.6L664.6,480.6L665.0,479.6L665.3,478.4L665.7,477.2L666.0,475.9L666.4,474.6L666.8,473.3L667.1,472.0L667.5,470.6L667.8,469.3L668.2,468.0L668.5,466.6L668.9,465.3L669.3,464.0L669.6,462.7L670.0,461.5L670.3,460.3L670.7,459.1L671.0,457.9L671.4,456.7L671.7,455.6L672.1,454.5L672.5,453.4L672.8,452.4L673.2,451.4L673.5,450.5L673.9,449.5L674.2,448.7L674.6,447.8L674.9,447.0L675.3,446.3L675.7,445.5L676.0,444.9L676.4,444.2L676.7,443.6L677.1,443.1L677.4,442.6L677.8,442.1L678.2,441.7L678.5,441.4L678.9,441.1L679.2,440.8L679.6,440.6L679.9,440.4L680.3,440.3L680.6,440.2L681.0,440.2L681.4,440.2L681.9,440.3L682.3,440.4L682.7,440.6L683.2,440.8L683.6,441.0L684.0,441.3L684.5,441.7L684.9,442.1L685.3,442.5L685.8,443.0L686.2,443.5L686.6,444.1L687.0,444.7L687.5,445.4L687.9,446.1L688.3,446.8L688.8,447.6L689.2,448.4L689.6,449.2L690.1,450.1L690.5,451.0L690.9,452.0L691.4,452.9L691.8,454.0L692.2,455.0L692.7,456.1L693.1,457.2L693.5,458.3L694.0,459.4L694.4,460.6L694.8,461.8L695.3,463.0L695.7,464.2L696.1,465.4L696.5,466.6L697.0,467.8L697.4,469.1L697.8,470.3L698.3,471.4L698.7,472.6L699.1,473.7L699.6,474.6L700.0,475.5L700.4,476.2L700.9,476.6L701.3,476.8L701.7,476.6L702.1,476.2L702.5,475.5L703.0,474.6L703.4,473.5L703.8,472.4L704.2,471.3L704.6,470.1L705.0,468.8L705.5,467.6L705.9,466.3L706.3,465.1L706.7,463.8L707.1,462.6L707.5,461.4L707.9,460.2L708.4,459.0L708.8,457.9L709.2,456.7L709.6,455.6L710.0,454.5L710.4,453.5L710.8,452.5L711.3,451.5L711.7,450.5L712.1,449.6L712.5,448.7L712.9,447.9L713.3,447.1L713.8,446.3L714.2,445.6L714.6,444.9L715.0,444.3L715.4,443.7L715.8,443.1L716.2,442.6L716.7,442.2L717.1,441.8L717.5,441.4L717.9,441.1L718.3,440.8L718.7,440.6L719.2,440.4L719.6,440.3L720.0,440.2L720.4,440.2L720.8,440.2L721.3,440.3L721.7,440.4L722.1,440.6L722.6,440.8L723.0,441.1L723.5,441.5L723.9,441.8L724.3,442.3L724.8,442.7L725.2,443.3L725.6,443.8L726.1,444.5L726.5,445.1L726.9,445.8L727.4,446.6L727.8,447.4L728.2,448.2L728.7,449.1L729.1,450.0L729.5,450.9L730.0,451.9L730.4,452.9L730.9,454.0L731.3,455.1L731.7,456.2L732.2,457.3L732.6,458.4L733.0,459.6L733.5,460.8L733.9,462.0L734.3,463.2L734.8,464.4L735.2,465.6L735.7,466.7L736.1,467.9L736.5,469.0L737.0,470.0L737.4,470.9L737.8,471.6L738.3,472.1L738.7,472.3L739.0,472.2L739.3,472.0L739.6,471.6L739.8,471.1L740.1,470.5L740.4,469.7L740.7,468.9L741.0,468.0L741.3,467.0L741.6,465.9L741.8,464.7L742.1,463.5L742.4,462.3L742.7,461.0L743.0,459.7L743.3,458.4L743.5,457.1L743.8,455.7L744.1,454.3L744.4,452.9L744.7,451.5L745.0,450.1L745.3,448.6L745.5,447.2L745.8,445.8L746.1,444.3L746.4,442.9L746.7,441.5L747.0,440.0L747.3,438.6L747.5,437.2L747.8,435.7L748.1,434.3L748.4,432.9L748.7,431.5L749.0,430.1L749.3,428.7L749.5,427.3L749.8,425.9L750.1,424.5L750.4,423.1L750.7,421.8L751.0,420.4L751.2,419.1L751.5,417.8L751.8,416.5L752.1,415.2L752.4,413.9L752.7,412.6L753.0,411.3L753.2,410.1L753.5,408.8L753.8,407.6L754.1,406.4L754.4,405.2L754.7,404.0L755.0,402.8L755.2,401.7L755.5,400.5L755.8,399.4L756.1,398.3L756.4,397.2L756.7,396.1L757.0,395.1L757.2,394.0L757.5,393.0L757.8,392.0L758.1,391.0L758.4,390.0L758.7,389.1L759.0,388.1L759.2,387.2L759.5,386.3L759.8,385.4L760.1,384.6L760.4,383.7L760.7,382.9L760.9,382.1L761.2,381.3L761.5,380.5L761.8,379.8L762.1,379.1L762.4,378.4L762.7,377.7L762.9,377.0L763.2,376.4L763.5,375.7L763.8,375.1L764.1,374.5L764.4,374.0L764.7,373.4L764.9,372.9L765.2,372.4L765.5,371.9L765.8,371.5L766.1,371.0L766.4,370.6L766.7,370.2L766.9,369.9L767.2,369.5L767.5,369.2L767.8,368.9L768.1,368.6L768.4,368.4L768.6,368.1L768.9,367.9L769.2,367.7L769.5,367.6L769.8,367.4L770.1,367.3L770.4,367.2L770.6,367.1L770.9,367.0L771.2,367.0L771.5,367.0L771.9,367.0L772.3,367.1L772.7,367.2L773.1,367.4L773.5,367.7L773.9,367.9L774.3,368.3L774.7,368.6L775.1,369.1L775.4,369.5L775.8,370.0L776.2,370.6L776.6,371.1L777.0,371.8L777.4,372.4L777.8,373.1L778.2,373.8L778.6,374.6L779.0,375.3L779.4,376.2L779.8,377.0L780.2,377.9L780.6,378.7L781.0,379.7L781.4,380.6L781.8,381.5L782.2,382.5L782.6,383.5L782.9,384.5L783.3,385.6L783.7,386.6L784.1,387.6L784.5,388.7L784.9,389.8L785.3,390.9L785.7,391.9L786.1,393.0L786.5,394.1L786.9,395.2L787.3,396.3L787.7,397.4L788.1,398.5L788.5,399.6L788.9,400.7L789.3,401.8L789.7,402.9L790.1,404.0L790.4,405.1L790.8,406.1L791.2,407.1L791.6,408.2L792.0,409.2L792.4,410.2L792.8,411.2L793.2,412.1L793.6,413.1L794.0,414.0L794.4,414.8L794.7,415.7L795.1,416.6L795.4,417.5L795.8,418.4L796.1,419.4L796.5,420.3L796.8,421.3L797.2,422.3L797.5,423.2L797.9,424.2L798.3,425.2L798.6,426.2L799.0,427.2L799.3,428.1L799.7,429.1L800.0,430.1L800.4,431.0L800.7,431.9L801.1,432.8L801.5,433.7L801.8,434.5L802.2,435.3L802.5,436.1L802.9,436.9L803.2,437.6L803.6,438.3L803.9,438.9L804.3,439.5L804.6,440.0L805.0,440.5L805.8,441.4L806.5,442.2L807.3,442.9L808.1,443.5L808.8,444.0L809.6,444.4L810.4,444.8L811.1,445.1L811.9,445.5L812.7,445.8L813.4,446.1L814.2,446.5L815.1,446.9L816.0,447.4L817.0,447.7L817.9,448.1L818.8,448.4L819.7,448.7L820.6,449.0L821.6,449.3L822.5,449.6L823.4,450.0L824.2,450.4L825.0,450.7L825.9,451.2L826.7,451.6L827.5,452.1L828.3,452.5L829.1,453.0L830.0,453.5L830.8,454.0L831.6,454.6L832.4,455.1L833.2,455.6L834.0,456.1L834.9,456.6L835.7,457.0L836.5,457.5L837.3,457.9L838.1,458.3L839.0,458.7L839.8,459.0L840.6,459.3L841.4,459.5L842.2,459.7L843.1,459.9L843.9,460.0L844.7,460.0L845.7,460.0L846.7,459.9L847.7,459.8L848.7,459.6L849.7,459.4L850.6,459.2L851.6,458.9L852.6,458.6L853.6,458.3L854.6,458.0L855.6,457.7L856.6,457.3L857.6,457.0L858.6,456.6L859.5,456.3L860.5,455.9L861.5,455.6L862.5,455.3L863.5,455.0L864.5,454.7" stroke="#2ea864" />
</g>
<g font-size="44">
<text x="254" y="126.6"><tspan class="i">L</tspan>=40<tspan class="i">a</tspan></text>
<text x="405" y="232">80<tspan class="i">a</tspan></text>
<text x="572" y="248.2">120<tspan class="i">a</tspan></text>
<text x="715" y="272.1">160<tspan class="i">a</tspan></text>
</g>
<line x1="302.2" y1="128.9" x2="302.2" y2="182.1" stroke="#ff0000" stroke-width="2.2"/><polygon points="292.95,180.1 311.45,180.1 302.2,198.8" fill="#ff0000"/>
<line x1="448.9" y1="242" x2="448.9" y2="296" stroke="#ff0000" stroke-width="2.2"/><polygon points="439.65,294 458.15,294 448.9,312" fill="#ff0000"/>
<line x1="621" y1="254.4" x2="621" y2="308.2" stroke="#ff0000" stroke-width="2.2"/><polygon points="611.75,306.2 630.25,306.2 621,324.4" fill="#ff0000"/>
<line x1="767.3" y1="279.1" x2="767.3" y2="332.4" stroke="#ff0000" stroke-width="2.2"/><polygon points="758.05,330.4 776.55,330.4 767.3,348.8" fill="#ff0000"/>
<!-- Panel b -->
<text x="31" y="612" font-size="33.5">(b)</text>
<g font-size="30.5" text-anchor="end">
<text transform="translate(167.2,674.3) scale(1,1.04)">3500</text>
<text transform="translate(167.2,762.6) scale(1,1.04)">3000</text>
<text transform="translate(167.2,850.8) scale(1,1.04)">2500</text>
<text transform="translate(167.2,939.1) scale(1,1.04)">2000</text>
<text transform="translate(167.2,1027.4) scale(1,1.04)">1500</text>
<text transform="translate(167.2,1115.6) scale(1,1.04)">1000</text>
<text transform="translate(167.2,1203.8) scale(1,1.04)">500</text>
</g>
<g font-size="30.5" text-anchor="middle">
<text transform="translate(254.7,1229.3) scale(1,1.04)">20</text>
<text transform="translate(406.9,1229.3) scale(1,1.04)">40</text>
<text transform="translate(559.1,1229.3) scale(1,1.04)">60</text>
<text transform="translate(711.3,1229.3) scale(1,1.04)">80</text>
<text transform="translate(863.5,1229.3) scale(1,1.04)">100</text>
</g>
<text x="316" y="1270.2" font-size="42">Actual distance (<tspan class="i">2L</tspan>) (μm)</text>
<text transform="translate(30.5,1105.5) rotate(-90)" font-size="43" letter-spacing="-0.4">Optical path length</text>
<text transform="translate(84,1118.2) rotate(-90)" font-size="43" letter-spacing="-0.25">difference (<tspan class="i">ΔL</tspan>) (μm)</text>
<line x1="277.2" y1="1170.8" x2="805.0" y2="745.9" stroke="#ff0000" stroke-width="3.5" stroke-dasharray="12.5 19.9"/>
<rect x="266.2" y="1157.4" width="22.2" height="22.2" fill="#ff0000"/><rect x="441.3" y="1026.2" width="22.2" height="22.2" fill="#ff0000"/><rect x="616.3" y="870.0" width="22.2" height="22.2" fill="#ff0000"/><rect x="791.4" y="739.7" width="22.2" height="22.2" fill="#ff0000"/>
<rect x="178.6" y="665.2" width="686.4" height="529" fill="none" stroke="#000" stroke-width="2"/>
<path d="M254.9,1194.2 v-9.5 M254.9,665.2 v9.5 M331.1,1194.2 v-5.0 M331.1,665.2 v5.0 M407.4,1194.2 v-9.5 M407.4,665.2 v9.5 M483.7,1194.2 v-5.0 M483.7,665.2 v5.0 M559.9,1194.2 v-9.5 M559.9,665.2 v9.5 M636.2,1194.2 v-5.0 M636.2,665.2 v5.0 M712.5,1194.2 v-9.5 M712.5,665.2 v9.5 M788.7,1194.2 v-5.0 M788.7,665.2 v5.0 M178.6,1150.1 h5.0 M865.0,1150.1 h-5.0 M178.6,1106.0 h9.5 M865.0,1106.0 h-9.5 M178.6,1062.0 h5.0 M865.0,1062.0 h-5.0 M178.6,1017.9 h9.5 M865.0,1017.9 h-9.5 M178.6,973.8 h5.0 M865.0,973.8 h-5.0 M178.6,929.7 h9.5 M865.0,929.7 h-9.5 M178.6,885.6 h5.0 M865.0,885.6 h-5.0 M178.6,841.5 h9.5 M865.0,841.5 h-9.5 M178.6,797.5 h5.0 M865.0,797.5 h-5.0 M178.6,753.4 h9.5 M865.0,753.4 h-9.5 M178.6,709.3 h5.0 M865.0,709.3 h-5.0" stroke="#000" stroke-width="2" fill="none"/>
<g font-size="45">
<text x="199" y="1113.3"><tspan class="i">L</tspan>=40<tspan class="i">a</tspan></text>
<text x="396" y="1004.2">80<tspan class="i">a</tspan></text>
<text x="559" y="843.2">120<tspan class="i">a</tspan></text>
<text x="672" y="737">160<tspan class="i">a</tspan></text>
</g>
</svg>
</body></html>
